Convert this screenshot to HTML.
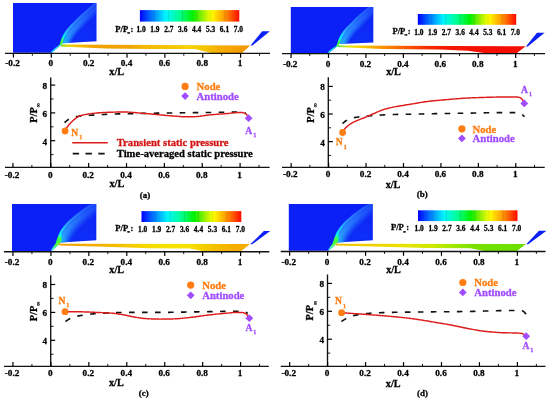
<!DOCTYPE html><html><head><meta charset="utf-8"><title>Figure</title><style>html,body{margin:0;padding:0;background:#fff;width:550px;height:402px;overflow:hidden}svg{display:block}text{stroke-width:0.28px}</style></head><body>
<svg width="550" height="402" viewBox="0 0 550 402" font-family='"Liberation Serif", "Times New Roman", serif'>
<rect width="550" height="402" fill="#fff"/>
<defs>
<linearGradient id="cb" x1="0" x2="1" y1="0" y2="0"><stop offset="0" stop-color="#0000ff"/><stop offset="0.13" stop-color="#0080ff"/><stop offset="0.26" stop-color="#00f5ff"/><stop offset="0.40" stop-color="#00ff90"/><stop offset="0.53" stop-color="#00f000"/><stop offset="0.64" stop-color="#a0f000"/><stop offset="0.72" stop-color="#ffff00"/><stop offset="0.86" stop-color="#ff9000"/><stop offset="1" stop-color="#ff0a00"/></linearGradient>
<filter id="bl05" x="-20%" y="-20%" width="140%" height="140%"><feGaussianBlur stdDeviation="0.45"/></filter>
<filter id="bl1" x="-20%" y="-20%" width="140%" height="140%"><feGaussianBlur stdDeviation="0.7"/></filter>
<filter id="bl2" x="-20%" y="-20%" width="140%" height="140%"><feGaussianBlur stdDeviation="2"/></filter>
</defs>
<clipPath id="clipa"><polygon points="13,3 96.5,3 96.5,41.2 62.1,43.199999999999996 60.9,44.8 51.8,52.7 13,52.7"/></clipPath>
<polygon points="13,3 96.5,3 96.5,41.2 62.1,43.199999999999996 60.9,44.8 51.8,52.7 13,52.7" fill="#0b20f6"/>
<g clip-path="url(#clipa)">
<defs><linearGradient id="gash" gradientUnits="userSpaceOnUse" x1="0" y1="52.7" x2="0" y2="1.5"><stop offset="0.002" stop-color="#20d8ff" stop-opacity="1"/><stop offset="0.121" stop-color="#20f0e0" stop-opacity="1"/><stop offset="0.160" stop-color="#40ff40" stop-opacity="1"/><stop offset="0.238" stop-color="#40ff50" stop-opacity="1"/><stop offset="0.316" stop-color="#00f0ff" stop-opacity="1"/><stop offset="0.424" stop-color="#30b8ff" stop-opacity="0.95"/><stop offset="0.561" stop-color="#3098ff" stop-opacity="0.85"/><stop offset="0.941" stop-color="#3078ff" stop-opacity="0.5"/></linearGradient><linearGradient id="gafan" gradientUnits="userSpaceOnUse" x1="0" y1="44.8" x2="0" y2="1.5"><stop offset="0" stop-color="#20d0ff" stop-opacity="1"/><stop offset="0.3" stop-color="#30a8ff" stop-opacity="0.9"/><stop offset="0.65" stop-color="#3088ff" stop-opacity="0.65"/><stop offset="1" stop-color="#3070ff" stop-opacity="0.3"/></linearGradient></defs>
<path d="M51.60,52.70 C52.38,52.02 54.75,49.95 56.30,48.60 C57.85,47.25 59.88,46.08 60.90,44.60 C61.92,43.12 61.92,41.08 62.40,39.70 C62.88,38.32 63.23,37.45 63.80,36.30 C64.37,35.15 64.78,34.28 65.80,32.80 C66.82,31.32 68.30,29.22 69.90,27.40 C71.50,25.58 73.58,23.73 75.40,21.90 C77.22,20.07 78.75,18.33 80.80,16.40 C82.85,14.47 85.65,12.12 87.70,10.30 C89.75,8.48 91.55,6.97 93.10,5.50 C94.65,4.03 96.35,2.17 97.00,1.50 L96.5,3 L96.5,41.2 L62.4,43.3 L51.8,52.7 Z" fill="url(#gafan)" opacity="0.1" filter="url(#bl2)"/>
<path d="M51.60,52.70 L52.86,51.60 L54.12,50.50 L55.38,49.40 L56.30,48.60 L56.64,48.32 L57.91,47.44 L59.17,46.55 L60.43,45.26 L60.90,44.60 L61.69,42.24 L62.40,39.70 L62.95,38.24 L63.80,36.30 L64.21,35.49 L65.47,33.31 L65.80,32.80 L66.73,31.43 L67.99,29.72 L69.26,28.15 L69.90,27.40 L70.52,26.71 L71.78,25.41 L73.04,24.18 L74.30,22.98 L75.40,21.90 L75.56,21.74 L76.82,20.44 L78.08,19.13 L79.34,17.83 L80.61,16.59 L80.80,16.40 L81.87,15.41 L83.13,14.28 L84.39,13.18 L85.65,12.09 L86.91,10.99 L87.70,10.30 L88.17,9.88 L89.43,8.79 L90.69,7.69 L91.96,6.57 L93.10,5.50 L93.22,5.39 L94.48,4.15 L95.74,2.85 L97.00,1.50" transform="translate(1.30,0.90)" fill="none" stroke="url(#gafan)" stroke-width="2.8" opacity="0.6" filter="url(#bl1)"/>
<path d="M51.60,52.70 L52.86,51.60 L54.12,50.50 L55.38,49.40 L56.30,48.60 L56.64,48.32 L57.91,47.44 L59.17,46.55 L60.43,45.26 L60.90,44.60 L61.69,42.24 L62.40,39.70 L62.95,38.24 L63.80,36.30 L64.21,35.49 L65.47,33.31 L65.80,32.80 L66.73,31.43 L67.99,29.72 L69.26,28.15 L69.90,27.40 L70.52,26.71 L71.78,25.41 L73.04,24.18 L74.30,22.98 L75.40,21.90 L75.56,21.74 L76.82,20.44 L78.08,19.13 L79.34,17.83 L80.61,16.59 L80.80,16.40 L81.87,15.41 L83.13,14.28 L84.39,13.18 L85.65,12.09 L86.91,10.99 L87.70,10.30 L88.17,9.88 L89.43,8.79 L90.69,7.69 L91.96,6.57 L93.10,5.50 L93.22,5.39 L94.48,4.15 L95.74,2.85 L97.00,1.50" transform="translate(2.60,1.80)" fill="none" stroke="url(#gafan)" stroke-width="2.8" opacity="0.75" filter="url(#bl1)"/>
<path d="M51.60,52.70 L52.86,51.60 L54.12,50.50 L55.38,49.40 L56.30,48.60 L56.64,48.32 L57.91,47.44 L59.17,46.55 L60.43,45.26 L60.90,44.60 L61.69,42.24 L62.40,39.70 L62.95,38.24 L63.80,36.30 L64.21,35.49 L65.47,33.31 L65.80,32.80 L66.73,31.43 L67.99,29.72 L69.26,28.15 L69.90,27.40 L70.52,26.71 L71.78,25.41 L73.04,24.18 L74.30,22.98 L75.40,21.90 L75.56,21.74 L76.82,20.44 L78.08,19.13 L79.34,17.83 L80.61,16.59 L80.80,16.40 L81.87,15.41 L83.13,14.28 L84.39,13.18 L85.65,12.09 L86.91,10.99 L87.70,10.30 L88.17,9.88 L89.43,8.79 L90.69,7.69 L91.96,6.57 L93.10,5.50 L93.22,5.39 L94.48,4.15 L95.74,2.85 L97.00,1.50" transform="translate(3.90,2.70)" fill="none" stroke="url(#gafan)" stroke-width="2.8" opacity="0.65" filter="url(#bl1)"/>
<path d="M51.60,52.70 L52.86,51.60 L54.12,50.50 L55.38,49.40 L56.30,48.60 L56.64,48.32 L57.91,47.44 L59.17,46.55 L60.43,45.26 L60.90,44.60 L61.69,42.24 L62.40,39.70 L62.95,38.24 L63.80,36.30 L64.21,35.49 L65.47,33.31 L65.80,32.80 L66.73,31.43 L67.99,29.72 L69.26,28.15 L69.90,27.40 L70.52,26.71 L71.78,25.41 L73.04,24.18 L74.30,22.98 L75.40,21.90 L75.56,21.74 L76.82,20.44 L78.08,19.13 L79.34,17.83 L80.61,16.59 L80.80,16.40 L81.87,15.41 L83.13,14.28 L84.39,13.18 L85.65,12.09 L86.91,10.99 L87.70,10.30 L88.17,9.88 L89.43,8.79 L90.69,7.69 L91.96,6.57 L93.10,5.50 L93.22,5.39 L94.48,4.15 L95.74,2.85 L97.00,1.50" transform="translate(5.20,3.60)" fill="none" stroke="url(#gafan)" stroke-width="2.8" opacity="0.45" filter="url(#bl1)"/>
<path d="M51.60,52.70 L52.86,51.60 L54.12,50.50 L55.38,49.40 L56.30,48.60 L56.64,48.32 L57.91,47.44 L59.17,46.55 L60.43,45.26 L60.90,44.60 L61.69,42.24 L62.40,39.70 L62.95,38.24 L63.80,36.30 L64.21,35.49 L65.47,33.31 L65.80,32.80 L66.73,31.43 L67.99,29.72 L69.26,28.15 L69.90,27.40 L70.52,26.71 L71.78,25.41 L73.04,24.18 L74.30,22.98 L75.40,21.90 L75.56,21.74 L76.82,20.44 L78.08,19.13 L79.34,17.83 L80.61,16.59 L80.80,16.40 L81.87,15.41 L83.13,14.28 L84.39,13.18 L85.65,12.09 L86.91,10.99 L87.70,10.30 L88.17,9.88 L89.43,8.79 L90.69,7.69 L91.96,6.57 L93.10,5.50 L93.22,5.39 L94.48,4.15 L95.74,2.85 L97.00,1.50" transform="translate(6.50,4.50)" fill="none" stroke="url(#gafan)" stroke-width="2.8" opacity="0.25" filter="url(#bl1)"/>
<path d="M51.60,52.70 L52.86,51.60 L54.12,50.50 L55.38,49.40 L56.30,48.60 L56.64,48.32 L57.91,47.44 L59.17,46.55 L60.43,45.26 L60.90,44.60 L61.69,42.24 L62.40,39.70 L62.95,38.24 L63.80,36.30 L64.21,35.49 L65.47,33.31 L65.80,32.80 L66.73,31.43 L67.99,29.72 L69.26,28.15 L69.90,27.40 L70.52,26.71 L71.78,25.41 L73.04,24.18 L74.30,22.98 L75.40,21.90 L75.56,21.74 L76.82,20.44 L78.08,19.13 L79.34,17.83 L80.61,16.59 L80.80,16.40 L81.87,15.41 L83.13,14.28 L84.39,13.18 L85.65,12.09 L86.91,10.99 L87.70,10.30 L88.17,9.88 L89.43,8.79 L90.69,7.69 L91.96,6.57 L93.10,5.50 L93.22,5.39 L94.48,4.15 L95.74,2.85 L97.00,1.50" fill="none" stroke="url(#gash)" stroke-width="2.3" filter="url(#bl05)"/>
</g>
<defs><linearGradient id="astrip" gradientUnits="userSpaceOnUse" x1="60.9" x2="250.2" y1="0" y2="0"><stop offset="0" stop-color="#50e040"/><stop offset="0.014" stop-color="#a0e000"/><stop offset="0.04" stop-color="#e0d800"/><stop offset="0.077" stop-color="#f2c000"/><stop offset="0.156" stop-color="#f2a800"/><stop offset="0.26" stop-color="#f0a000"/><stop offset="0.367" stop-color="#f2a400"/><stop offset="0.446" stop-color="#f5b800"/><stop offset="0.577" stop-color="#f5c400"/><stop offset="0.683" stop-color="#f8d000"/><stop offset="0.762" stop-color="#f5c400"/><stop offset="0.84" stop-color="#f5ac00"/><stop offset="0.935" stop-color="#f5a000"/><stop offset="1" stop-color="#f09000"/></linearGradient></defs>
<polygon points="60.9,44.599999999999994 250.2,45.4 242,52.9 211,52.9 195,49.0 150,48.9 105,48.5 60.9,46.6 60.6,45.4" fill="url(#astrip)"/>
<polygon points="250.5,45.6 262.2,31.2 269.8,31.2 252.39999999999998,45.6" fill="#0b20f6"/>
<line x1="5" y1="53.4" x2="270" y2="53.4" stroke="#111" stroke-width="1.35"/>
<line x1="13.44" y1="53.4" x2="13.44" y2="57.699999999999996" stroke="#000" stroke-width="1.2"/>
<text x="12.54" y="66.30" font-size="9.2" fill="#000" text-anchor="middle" font-weight="bold" stroke="#000">-0.2</text>
<line x1="32.37" y1="53.4" x2="32.37" y2="55.8" stroke="#000" stroke-width="0.9"/>
<line x1="51.30" y1="53.4" x2="51.30" y2="57.699999999999996" stroke="#000" stroke-width="1.2"/>
<text x="50.80" y="66.30" font-size="9.2" fill="#000" text-anchor="middle" font-weight="bold" stroke="#000">0</text>
<line x1="70.23" y1="53.4" x2="70.23" y2="55.8" stroke="#000" stroke-width="0.9"/>
<line x1="89.16" y1="53.4" x2="89.16" y2="57.699999999999996" stroke="#000" stroke-width="1.2"/>
<text x="88.66" y="66.30" font-size="9.2" fill="#000" text-anchor="middle" font-weight="bold" stroke="#000">0.2</text>
<line x1="108.09" y1="53.4" x2="108.09" y2="55.8" stroke="#000" stroke-width="0.9"/>
<line x1="127.02" y1="53.4" x2="127.02" y2="57.699999999999996" stroke="#000" stroke-width="1.2"/>
<text x="126.52" y="66.30" font-size="9.2" fill="#000" text-anchor="middle" font-weight="bold" stroke="#000">0.4</text>
<line x1="145.95" y1="53.4" x2="145.95" y2="55.8" stroke="#000" stroke-width="0.9"/>
<line x1="164.88" y1="53.4" x2="164.88" y2="57.699999999999996" stroke="#000" stroke-width="1.2"/>
<text x="164.38" y="66.30" font-size="9.2" fill="#000" text-anchor="middle" font-weight="bold" stroke="#000">0.6</text>
<line x1="183.81" y1="53.4" x2="183.81" y2="55.8" stroke="#000" stroke-width="0.9"/>
<line x1="202.74" y1="53.4" x2="202.74" y2="57.699999999999996" stroke="#000" stroke-width="1.2"/>
<text x="202.24" y="66.30" font-size="9.2" fill="#000" text-anchor="middle" font-weight="bold" stroke="#000">0.8</text>
<line x1="221.67" y1="53.4" x2="221.67" y2="55.8" stroke="#000" stroke-width="0.9"/>
<line x1="240.60" y1="53.4" x2="240.60" y2="57.699999999999996" stroke="#000" stroke-width="1.2"/>
<text x="240.10" y="66.30" font-size="9.2" fill="#000" text-anchor="middle" font-weight="bold" stroke="#000">1</text>
<line x1="259.53" y1="53.4" x2="259.53" y2="55.8" stroke="#000" stroke-width="0.9"/>
<rect x="139.9" y="10.1" width="99.4" height="11.500000000000002" fill="url(#cb)"/>
<line x1="154.10" y1="10.1" x2="154.10" y2="21.6" stroke="#000" stroke-opacity="0.18" stroke-width="0.6"/>
<line x1="168.30" y1="10.1" x2="168.30" y2="21.6" stroke="#000" stroke-opacity="0.18" stroke-width="0.6"/>
<line x1="182.50" y1="10.1" x2="182.50" y2="21.6" stroke="#000" stroke-opacity="0.18" stroke-width="0.6"/>
<line x1="196.70" y1="10.1" x2="196.70" y2="21.6" stroke="#000" stroke-opacity="0.18" stroke-width="0.6"/>
<line x1="210.90" y1="10.1" x2="210.90" y2="21.6" stroke="#000" stroke-opacity="0.18" stroke-width="0.6"/>
<line x1="225.10" y1="10.1" x2="225.10" y2="21.6" stroke="#000" stroke-opacity="0.18" stroke-width="0.6"/>
<text transform="translate(141.00,32.00)" x="0" y="0" font-size="7.4" font-weight="bold" text-anchor="middle" fill="#000" stroke="#000">1.0</text>
<text transform="translate(154.91,32.00)" x="0" y="0" font-size="7.4" font-weight="bold" text-anchor="middle" fill="#000" stroke="#000">1.9</text>
<text transform="translate(168.83,32.00)" x="0" y="0" font-size="7.4" font-weight="bold" text-anchor="middle" fill="#000" stroke="#000">2.7</text>
<text transform="translate(182.74,32.00)" x="0" y="0" font-size="7.4" font-weight="bold" text-anchor="middle" fill="#000" stroke="#000">3.6</text>
<text transform="translate(196.66,32.00)" x="0" y="0" font-size="7.4" font-weight="bold" text-anchor="middle" fill="#000" stroke="#000">4.4</text>
<text transform="translate(210.57,32.00)" x="0" y="0" font-size="7.4" font-weight="bold" text-anchor="middle" fill="#000" stroke="#000">5.3</text>
<text transform="translate(224.49,32.00)" x="0" y="0" font-size="7.4" font-weight="bold" text-anchor="middle" fill="#000" stroke="#000">6.1</text>
<text transform="translate(238.40,32.00)" x="0" y="0" font-size="7.4" font-weight="bold" text-anchor="middle" fill="#000" stroke="#000">7.0</text>
<text x="115.3" y="31.6" font-size="8.6" font-weight="bold" stroke="#000">P/P</text>
<text x="127.3" y="33.9" font-size="4.0" font-weight="bold" stroke="#000">∞</text>
<text x="130.6" y="31.6" font-size="8.6" font-weight="bold" stroke="#000">:</text>
<text x="109.30" y="74.50" font-size="10.2" fill="#000" text-anchor="start" font-weight="bold" stroke="#000">x/L</text>
<line x1="50.7" y1="77.6" x2="50.7" y2="167.4" stroke="#111" stroke-width="1.35"/>
<line x1="50.7" y1="154.60" x2="53.5" y2="154.60" stroke="#000" stroke-width="0.9"/>
<line x1="50.7" y1="140.70" x2="55.2" y2="140.70" stroke="#000" stroke-width="1.2"/>
<text x="47.20" y="144.60" font-size="9.2" fill="#000" text-anchor="end" font-weight="bold" stroke="#000">4</text>
<line x1="50.7" y1="126.80" x2="53.5" y2="126.80" stroke="#000" stroke-width="0.9"/>
<line x1="50.7" y1="112.90" x2="55.2" y2="112.90" stroke="#000" stroke-width="1.2"/>
<text x="47.20" y="116.80" font-size="9.2" fill="#000" text-anchor="end" font-weight="bold" stroke="#000">6</text>
<line x1="50.7" y1="99.00" x2="53.5" y2="99.00" stroke="#000" stroke-width="0.9"/>
<line x1="50.7" y1="85.10" x2="55.2" y2="85.10" stroke="#000" stroke-width="1.2"/>
<text x="47.20" y="89.00" font-size="9.2" fill="#000" text-anchor="end" font-weight="bold" stroke="#000">8</text>
<line x1="5" y1="167.4" x2="269.6" y2="167.4" stroke="#111" stroke-width="1.35"/>
<line x1="12.94" y1="167.4" x2="12.94" y2="163.1" stroke="#000" stroke-width="1.2"/>
<text x="12.04" y="177.70" font-size="9.2" fill="#000" text-anchor="middle" font-weight="bold" stroke="#000">-0.2</text>
<line x1="31.87" y1="167.4" x2="31.87" y2="164.9" stroke="#000" stroke-width="0.9"/>
<line x1="50.80" y1="167.4" x2="50.80" y2="163.1" stroke="#000" stroke-width="1.2"/>
<text x="50.30" y="177.70" font-size="9.2" fill="#000" text-anchor="middle" font-weight="bold" stroke="#000">0</text>
<line x1="69.73" y1="167.4" x2="69.73" y2="164.9" stroke="#000" stroke-width="0.9"/>
<line x1="88.66" y1="167.4" x2="88.66" y2="163.1" stroke="#000" stroke-width="1.2"/>
<text x="88.16" y="177.70" font-size="9.2" fill="#000" text-anchor="middle" font-weight="bold" stroke="#000">0.2</text>
<line x1="107.59" y1="167.4" x2="107.59" y2="164.9" stroke="#000" stroke-width="0.9"/>
<line x1="126.52" y1="167.4" x2="126.52" y2="163.1" stroke="#000" stroke-width="1.2"/>
<text x="126.02" y="177.70" font-size="9.2" fill="#000" text-anchor="middle" font-weight="bold" stroke="#000">0.4</text>
<line x1="145.45" y1="167.4" x2="145.45" y2="164.9" stroke="#000" stroke-width="0.9"/>
<line x1="164.38" y1="167.4" x2="164.38" y2="163.1" stroke="#000" stroke-width="1.2"/>
<text x="163.88" y="177.70" font-size="9.2" fill="#000" text-anchor="middle" font-weight="bold" stroke="#000">0.6</text>
<line x1="183.31" y1="167.4" x2="183.31" y2="164.9" stroke="#000" stroke-width="0.9"/>
<line x1="202.24" y1="167.4" x2="202.24" y2="163.1" stroke="#000" stroke-width="1.2"/>
<text x="201.74" y="177.70" font-size="9.2" fill="#000" text-anchor="middle" font-weight="bold" stroke="#000">0.8</text>
<line x1="221.17" y1="167.4" x2="221.17" y2="164.9" stroke="#000" stroke-width="0.9"/>
<line x1="240.10" y1="167.4" x2="240.10" y2="163.1" stroke="#000" stroke-width="1.2"/>
<text x="239.60" y="177.70" font-size="9.2" fill="#000" text-anchor="middle" font-weight="bold" stroke="#000">1</text>
<line x1="259.03" y1="167.4" x2="259.03" y2="164.9" stroke="#000" stroke-width="0.9"/>
<text transform="translate(36.6,113) rotate(-90)" font-size="10.4" font-weight="bold" text-anchor="middle" stroke="#000">P/P<tspan font-size="5.6" dy="3.4">∞</tspan></text>
<text x="109.50" y="187.40" font-size="10.2" fill="#000" text-anchor="start" font-weight="bold" stroke="#000">x/L</text>
<text x="139.70" y="197.80" font-size="9" fill="#000" text-anchor="start" font-weight="bold" stroke="#000">(a)</text>
<path d="M64.50,122.70 L65.71,121.62 L66.92,120.61 L68.13,119.70 L69.34,118.94 L70.55,118.34 L70.90,118.20 L71.76,117.90 L72.97,117.51 L74.18,117.18 L75.39,116.89 L76.60,116.65 L77.81,116.45 L78.20,116.40 L79.02,116.29 L80.23,116.15 L81.44,116.01 L82.65,115.89 L83.86,115.77 L85.07,115.67 L86.28,115.57 L87.49,115.47 L88.70,115.39 L89.91,115.30 L91.12,115.23 L92.33,115.15 L93.54,115.08 L94.75,115.00 L95.96,114.93 L96.40,114.90 L97.17,114.85 L98.38,114.78 L99.59,114.71 L100.80,114.63 L102.01,114.57 L103.22,114.50 L104.43,114.43 L105.64,114.37 L106.85,114.31 L108.06,114.25 L109.27,114.20 L110.48,114.14 L111.69,114.10 L112.90,114.05 L114.11,114.01 L114.50,114.00 L115.32,113.98 L116.53,113.94 L117.74,113.91 L118.95,113.88 L120.16,113.85 L121.37,113.82 L122.58,113.80 L123.79,113.77 L125.00,113.75 L126.21,113.72 L127.42,113.70 L128.63,113.68 L129.84,113.66 L131.05,113.63 L132.26,113.61 L132.70,113.60 L133.47,113.58 L134.68,113.56 L135.89,113.54 L137.10,113.51 L138.31,113.49 L139.52,113.46 L140.73,113.44 L141.94,113.42 L143.15,113.39 L144.36,113.37 L145.57,113.35 L146.78,113.32 L147.99,113.30 L149.20,113.28 L150.41,113.26 L151.62,113.24 L152.83,113.22 L154.04,113.20 L155.25,113.18 L156.46,113.16 L157.67,113.14 L158.88,113.12 L160.00,113.10 L160.09,113.10 L161.30,113.08 L162.51,113.06 L163.72,113.05 L164.93,113.03 L166.14,113.01 L167.35,113.00 L168.56,112.98 L169.77,112.97 L170.98,112.95 L172.19,112.94 L173.40,112.92 L174.61,112.91 L175.82,112.89 L177.03,112.88 L178.24,112.86 L179.45,112.85 L180.66,112.83 L181.87,112.82 L183.08,112.80 L184.29,112.79 L185.50,112.77 L186.71,112.76 L187.92,112.74 L189.13,112.73 L190.34,112.71 L191.40,112.70 L191.55,112.70 L192.76,112.68 L193.97,112.67 L195.18,112.65 L196.39,112.63 L197.60,112.62 L198.81,112.60 L200.02,112.59 L201.23,112.57 L202.44,112.55 L203.65,112.54 L204.86,112.52 L206.07,112.50 L207.28,112.49 L208.49,112.47 L209.70,112.46 L210.91,112.44 L212.12,112.42 L213.33,112.41 L214.54,112.39 L215.75,112.37 L216.96,112.35 L218.17,112.34 L219.38,112.32 L220.59,112.30 L221.80,112.29 L223.01,112.27 L224.22,112.25 L225.43,112.23 L226.64,112.22 L227.70,112.20 L227.85,112.20 L229.06,112.18 L230.27,112.15 L231.48,112.13 L232.69,112.11 L233.90,112.08 L235.11,112.06 L236.32,112.04 L237.53,112.02 L238.74,112.01 L239.95,112.00 L240.50,112.00 L241.16,112.02 L242.37,112.12 L243.58,112.32 L244.00,112.40 L244.79,112.77 L246.00,113.80" fill="none" stroke="#111" stroke-width="1.6" stroke-dasharray="5.6 7.4"/>
<path d="M65.30,130.30 L66.51,128.21 L67.73,126.37 L68.00,126.00 L68.94,124.83 L70.16,123.48 L71.00,122.60 L71.37,122.22 L72.58,121.01 L73.80,119.89 L74.50,119.30 L75.01,118.89 L76.23,117.94 L77.44,117.11 L78.20,116.70 L78.65,116.49 L79.87,115.98 L81.08,115.55 L82.29,115.18 L83.00,115.00 L83.51,114.88 L84.72,114.63 L85.94,114.42 L87.15,114.22 L87.30,114.20 L88.36,114.04 L89.58,113.86 L90.79,113.70 L92.01,113.54 L93.22,113.39 L94.43,113.26 L95.65,113.13 L96.00,113.10 L96.86,113.02 L98.08,112.91 L99.29,112.80 L100.50,112.70 L101.72,112.61 L102.93,112.53 L104.15,112.46 L105.36,112.41 L105.50,112.40 L106.57,112.36 L107.79,112.32 L109.00,112.28 L110.21,112.24 L111.43,112.20 L112.64,112.17 L113.86,112.14 L115.07,112.11 L116.28,112.08 L117.50,112.06 L118.71,112.04 L119.93,112.02 L121.14,112.01 L122.35,112.00 L123.57,112.00 L123.60,112.00 L124.78,112.01 L126.00,112.04 L127.21,112.08 L128.42,112.14 L129.64,112.21 L130.85,112.29 L132.06,112.37 L133.28,112.47 L134.49,112.57 L135.71,112.68 L136.92,112.79 L138.13,112.89 L139.35,113.00 L140.56,113.10 L141.78,113.20 L141.80,113.20 L142.99,113.29 L144.20,113.40 L145.42,113.50 L146.63,113.61 L147.85,113.73 L149.06,113.84 L150.27,113.96 L151.49,114.07 L152.70,114.19 L153.92,114.30 L155.00,114.40 L155.13,114.41 L156.34,114.52 L157.56,114.63 L158.77,114.74 L159.98,114.86 L161.20,114.97 L162.41,115.08 L163.63,115.20 L164.84,115.31 L166.05,115.42 L167.27,115.52 L168.48,115.63 L169.70,115.73 L170.91,115.83 L172.12,115.92 L173.20,116.00 L173.34,116.01 L174.55,116.10 L175.77,116.20 L176.98,116.30 L178.19,116.40 L179.41,116.50 L180.62,116.59 L181.84,116.67 L183.05,116.73 L184.26,116.77 L185.48,116.80 L186.00,116.80 L186.69,116.80 L187.90,116.79 L189.12,116.78 L190.33,116.76 L191.55,116.73 L192.76,116.70 L193.97,116.66 L195.19,116.63 L196.00,116.60 L196.40,116.58 L197.62,116.51 L198.83,116.39 L200.04,116.25 L201.26,116.08 L202.47,115.90 L203.69,115.71 L204.90,115.52 L206.11,115.33 L207.33,115.16 L208.54,115.00 L209.50,114.90 L209.75,114.88 L210.97,114.76 L212.18,114.66 L213.40,114.56 L214.61,114.46 L215.82,114.37 L217.04,114.28 L218.25,114.19 L219.47,114.11 L220.68,114.02 L221.89,113.94 L223.11,113.85 L224.32,113.76 L225.54,113.67 L226.75,113.58 L227.70,113.50 L227.96,113.48 L229.18,113.37 L230.39,113.25 L231.61,113.12 L232.82,112.99 L234.03,112.87 L235.25,112.77 L236.46,112.68 L237.67,112.61 L238.00,112.60 L238.89,112.57 L240.10,112.53 L241.32,112.50 L242.00,112.50 L242.53,112.53 L243.74,112.83 L244.96,113.33 L245.50,113.60 L246.17,114.09 L247.39,115.56 L248.60,117.50" fill="none" stroke="#dd1c1c" stroke-width="1.45"/>
<circle cx="65.1" cy="131.0" r="3.4" fill="#ff7d12"/>
<polygon points="248.6,114.3 252.5,118.2 248.6,122.10000000000001 244.7,118.2" fill="#a04cff"/>
<text x="71.2" y="136.2" font-size="9.6" font-weight="bold" fill="#ff7d12" stroke="#ff7d12">N<tspan font-size="6" dx="1.0" dy="3.2">1</tspan></text>
<text x="245.3" y="133.9" font-size="9.6" font-weight="bold" fill="#a04cff" stroke="#a04cff">A<tspan font-size="6" dx="1.0" dy="3.2">1</tspan></text>
<circle cx="185.1" cy="86.4" r="3.6" fill="#ff7d12"/>
<text x="196.60" y="90.10" font-size="10.7" fill="#ff7d12" text-anchor="start" font-weight="bold" stroke="#ff7d12">Node</text>
<polygon points="185.1,92.2 189.0,96.10000000000001 185.1,100.00000000000001 181.2,96.10000000000001" fill="#a04cff"/>
<text x="196.60" y="99.60" font-size="10.7" fill="#a04cff" text-anchor="start" font-weight="bold" stroke="#a04cff">Antinode</text>
<line x1="72.2" y1="142.8" x2="107.80000000000001" y2="142.8" stroke="#dd1c1c" stroke-width="1.5"/>
<text x="116.80" y="145.80" font-size="10.65" fill="#d41414" text-anchor="start" font-weight="bold" stroke="#d41414">Transient static pressure</text>
<line x1="72.7" y1="153.70000000000002" x2="105.2" y2="153.70000000000002" stroke="#111" stroke-width="1.7" stroke-dasharray="6.4 6.4"/>
<text x="116.80" y="156.70" font-size="10.6" fill="#000" text-anchor="start" font-weight="bold" stroke="#000">Time-averaged static pressure</text>
<clipPath id="clipb"><polygon points="290.8,6.9 373.3,6.9 373.3,42.6 339.09999999999997,44.1 337.9,45.7 328.8,52.9 290.8,52.9"/></clipPath>
<polygon points="290.8,6.9 373.3,6.9 373.3,42.6 339.09999999999997,44.1 337.9,45.7 328.8,52.9 290.8,52.9" fill="#0b20f6"/>
<g clip-path="url(#clipb)">
<defs><linearGradient id="gbsh" gradientUnits="userSpaceOnUse" x1="0" y1="52.9" x2="0" y2="2.7"><stop offset="0.000" stop-color="#20d8ff" stop-opacity="1"/><stop offset="0.108" stop-color="#20f0e0" stop-opacity="1"/><stop offset="0.147" stop-color="#40ff40" stop-opacity="1"/><stop offset="0.217" stop-color="#40ff50" stop-opacity="1"/><stop offset="0.297" stop-color="#00f0ff" stop-opacity="1"/><stop offset="0.416" stop-color="#30b8ff" stop-opacity="0.95"/><stop offset="0.556" stop-color="#3098ff" stop-opacity="0.85"/><stop offset="0.898" stop-color="#3078ff" stop-opacity="0.5"/></linearGradient><linearGradient id="gbfan" gradientUnits="userSpaceOnUse" x1="0" y1="45.7" x2="0" y2="2.7"><stop offset="0" stop-color="#20d0ff" stop-opacity="1"/><stop offset="0.3" stop-color="#30a8ff" stop-opacity="0.9"/><stop offset="0.65" stop-color="#3088ff" stop-opacity="0.65"/><stop offset="1" stop-color="#3070ff" stop-opacity="0.3"/></linearGradient></defs>
<path d="M328.60,52.90 C329.37,52.30 331.67,50.50 333.20,49.30 C334.73,48.10 336.78,47.10 337.80,45.70 C338.82,44.30 338.82,42.27 339.30,40.90 C339.78,39.53 340.13,38.65 340.70,37.50 C341.27,36.35 341.68,35.48 342.70,34.00 C343.72,32.52 345.20,30.42 346.80,28.60 C348.40,26.78 350.48,24.93 352.30,23.10 C354.12,21.27 355.65,19.53 357.70,17.60 C359.75,15.67 362.55,13.32 364.60,11.50 C366.65,9.68 368.43,8.17 370.00,6.70 C371.57,5.23 373.33,3.37 374.00,2.70 L373.3,6.9 L373.3,42.6 L339.4,44.2 L328.8,52.9 Z" fill="url(#gbfan)" opacity="0.1" filter="url(#bl2)"/>
<path d="M328.60,52.90 L329.86,51.91 L331.12,50.93 L332.38,49.94 L333.20,49.30 L333.64,48.98 L334.91,48.21 L336.17,47.40 L337.43,46.19 L337.80,45.70 L338.69,43.03 L339.30,40.90 L339.95,39.20 L340.70,37.50 L341.21,36.50 L342.47,34.35 L342.70,34.00 L343.73,32.48 L344.99,30.79 L346.26,29.23 L346.80,28.60 L347.52,27.81 L348.78,26.51 L350.04,25.29 L351.30,24.08 L352.30,23.10 L352.56,22.84 L353.82,21.54 L355.08,20.22 L356.34,18.93 L357.61,17.69 L357.70,17.60 L358.87,16.52 L360.13,15.39 L361.39,14.29 L362.65,13.20 L363.91,12.11 L364.60,11.50 L365.17,11.00 L366.43,9.89 L367.69,8.79 L368.96,7.67 L370.00,6.70 L370.22,6.49 L371.48,5.27 L372.74,4.00 L374.00,2.70" transform="translate(1.30,0.90)" fill="none" stroke="url(#gbfan)" stroke-width="2.8" opacity="0.6" filter="url(#bl1)"/>
<path d="M328.60,52.90 L329.86,51.91 L331.12,50.93 L332.38,49.94 L333.20,49.30 L333.64,48.98 L334.91,48.21 L336.17,47.40 L337.43,46.19 L337.80,45.70 L338.69,43.03 L339.30,40.90 L339.95,39.20 L340.70,37.50 L341.21,36.50 L342.47,34.35 L342.70,34.00 L343.73,32.48 L344.99,30.79 L346.26,29.23 L346.80,28.60 L347.52,27.81 L348.78,26.51 L350.04,25.29 L351.30,24.08 L352.30,23.10 L352.56,22.84 L353.82,21.54 L355.08,20.22 L356.34,18.93 L357.61,17.69 L357.70,17.60 L358.87,16.52 L360.13,15.39 L361.39,14.29 L362.65,13.20 L363.91,12.11 L364.60,11.50 L365.17,11.00 L366.43,9.89 L367.69,8.79 L368.96,7.67 L370.00,6.70 L370.22,6.49 L371.48,5.27 L372.74,4.00 L374.00,2.70" transform="translate(2.60,1.80)" fill="none" stroke="url(#gbfan)" stroke-width="2.8" opacity="0.75" filter="url(#bl1)"/>
<path d="M328.60,52.90 L329.86,51.91 L331.12,50.93 L332.38,49.94 L333.20,49.30 L333.64,48.98 L334.91,48.21 L336.17,47.40 L337.43,46.19 L337.80,45.70 L338.69,43.03 L339.30,40.90 L339.95,39.20 L340.70,37.50 L341.21,36.50 L342.47,34.35 L342.70,34.00 L343.73,32.48 L344.99,30.79 L346.26,29.23 L346.80,28.60 L347.52,27.81 L348.78,26.51 L350.04,25.29 L351.30,24.08 L352.30,23.10 L352.56,22.84 L353.82,21.54 L355.08,20.22 L356.34,18.93 L357.61,17.69 L357.70,17.60 L358.87,16.52 L360.13,15.39 L361.39,14.29 L362.65,13.20 L363.91,12.11 L364.60,11.50 L365.17,11.00 L366.43,9.89 L367.69,8.79 L368.96,7.67 L370.00,6.70 L370.22,6.49 L371.48,5.27 L372.74,4.00 L374.00,2.70" transform="translate(3.90,2.70)" fill="none" stroke="url(#gbfan)" stroke-width="2.8" opacity="0.65" filter="url(#bl1)"/>
<path d="M328.60,52.90 L329.86,51.91 L331.12,50.93 L332.38,49.94 L333.20,49.30 L333.64,48.98 L334.91,48.21 L336.17,47.40 L337.43,46.19 L337.80,45.70 L338.69,43.03 L339.30,40.90 L339.95,39.20 L340.70,37.50 L341.21,36.50 L342.47,34.35 L342.70,34.00 L343.73,32.48 L344.99,30.79 L346.26,29.23 L346.80,28.60 L347.52,27.81 L348.78,26.51 L350.04,25.29 L351.30,24.08 L352.30,23.10 L352.56,22.84 L353.82,21.54 L355.08,20.22 L356.34,18.93 L357.61,17.69 L357.70,17.60 L358.87,16.52 L360.13,15.39 L361.39,14.29 L362.65,13.20 L363.91,12.11 L364.60,11.50 L365.17,11.00 L366.43,9.89 L367.69,8.79 L368.96,7.67 L370.00,6.70 L370.22,6.49 L371.48,5.27 L372.74,4.00 L374.00,2.70" transform="translate(5.20,3.60)" fill="none" stroke="url(#gbfan)" stroke-width="2.8" opacity="0.45" filter="url(#bl1)"/>
<path d="M328.60,52.90 L329.86,51.91 L331.12,50.93 L332.38,49.94 L333.20,49.30 L333.64,48.98 L334.91,48.21 L336.17,47.40 L337.43,46.19 L337.80,45.70 L338.69,43.03 L339.30,40.90 L339.95,39.20 L340.70,37.50 L341.21,36.50 L342.47,34.35 L342.70,34.00 L343.73,32.48 L344.99,30.79 L346.26,29.23 L346.80,28.60 L347.52,27.81 L348.78,26.51 L350.04,25.29 L351.30,24.08 L352.30,23.10 L352.56,22.84 L353.82,21.54 L355.08,20.22 L356.34,18.93 L357.61,17.69 L357.70,17.60 L358.87,16.52 L360.13,15.39 L361.39,14.29 L362.65,13.20 L363.91,12.11 L364.60,11.50 L365.17,11.00 L366.43,9.89 L367.69,8.79 L368.96,7.67 L370.00,6.70 L370.22,6.49 L371.48,5.27 L372.74,4.00 L374.00,2.70" transform="translate(6.50,4.50)" fill="none" stroke="url(#gbfan)" stroke-width="2.8" opacity="0.25" filter="url(#bl1)"/>
<path d="M328.60,52.90 L329.86,51.91 L331.12,50.93 L332.38,49.94 L333.20,49.30 L333.64,48.98 L334.91,48.21 L336.17,47.40 L337.43,46.19 L337.80,45.70 L338.69,43.03 L339.30,40.90 L339.95,39.20 L340.70,37.50 L341.21,36.50 L342.47,34.35 L342.70,34.00 L343.73,32.48 L344.99,30.79 L346.26,29.23 L346.80,28.60 L347.52,27.81 L348.78,26.51 L350.04,25.29 L351.30,24.08 L352.30,23.10 L352.56,22.84 L353.82,21.54 L355.08,20.22 L356.34,18.93 L357.61,17.69 L357.70,17.60 L358.87,16.52 L360.13,15.39 L361.39,14.29 L362.65,13.20 L363.91,12.11 L364.60,11.50 L365.17,11.00 L366.43,9.89 L367.69,8.79 L368.96,7.67 L370.00,6.70 L370.22,6.49 L371.48,5.27 L372.74,4.00 L374.00,2.70" fill="none" stroke="url(#gbsh)" stroke-width="2.3" filter="url(#bl05)"/>
</g>
<defs><linearGradient id="bstrip" gradientUnits="userSpaceOnUse" x1="337.9" x2="525.6" y1="0" y2="0"><stop offset="0" stop-color="#40e040"/><stop offset="0.02" stop-color="#90e020"/><stop offset="0.06" stop-color="#e0e000"/><stop offset="0.1" stop-color="#f5d800"/><stop offset="0.15" stop-color="#f8c000"/><stop offset="0.2" stop-color="#f8a400"/><stop offset="0.245" stop-color="#f89000"/><stop offset="0.31" stop-color="#f87000"/><stop offset="0.39" stop-color="#f85000"/><stop offset="0.465" stop-color="#f83000"/><stop offset="0.54" stop-color="#f51c00"/><stop offset="0.7" stop-color="#f51000"/><stop offset="1" stop-color="#f50c00"/></linearGradient></defs>
<polygon points="337.9,45.5 525.6,46.3 517,53.1 484,53.1 468,50.8 440,49.6 382,49.1 337.9,47.1 337.59999999999997,46.300000000000004" fill="url(#bstrip)"/>
<polygon points="525.9,46.5 537,32.8 544.6,32.8 527.8000000000001,46.5" fill="#0b20f6"/>
<line x1="282" y1="53.6" x2="545" y2="53.6" stroke="#111" stroke-width="1.35"/>
<line x1="291.06" y1="53.6" x2="291.06" y2="57.9" stroke="#000" stroke-width="1.2"/>
<text x="290.16" y="66.80" font-size="9.2" fill="#000" text-anchor="middle" font-weight="bold" stroke="#000">-0.2</text>
<line x1="309.78" y1="53.6" x2="309.78" y2="56.0" stroke="#000" stroke-width="0.9"/>
<line x1="328.50" y1="53.6" x2="328.50" y2="57.9" stroke="#000" stroke-width="1.2"/>
<text x="328.00" y="66.80" font-size="9.2" fill="#000" text-anchor="middle" font-weight="bold" stroke="#000">0</text>
<line x1="347.22" y1="53.6" x2="347.22" y2="56.0" stroke="#000" stroke-width="0.9"/>
<line x1="365.94" y1="53.6" x2="365.94" y2="57.9" stroke="#000" stroke-width="1.2"/>
<text x="365.44" y="66.80" font-size="9.2" fill="#000" text-anchor="middle" font-weight="bold" stroke="#000">0.2</text>
<line x1="384.66" y1="53.6" x2="384.66" y2="56.0" stroke="#000" stroke-width="0.9"/>
<line x1="403.38" y1="53.6" x2="403.38" y2="57.9" stroke="#000" stroke-width="1.2"/>
<text x="402.88" y="66.80" font-size="9.2" fill="#000" text-anchor="middle" font-weight="bold" stroke="#000">0.4</text>
<line x1="422.10" y1="53.6" x2="422.10" y2="56.0" stroke="#000" stroke-width="0.9"/>
<line x1="440.82" y1="53.6" x2="440.82" y2="57.9" stroke="#000" stroke-width="1.2"/>
<text x="440.32" y="66.80" font-size="9.2" fill="#000" text-anchor="middle" font-weight="bold" stroke="#000">0.6</text>
<line x1="459.54" y1="53.6" x2="459.54" y2="56.0" stroke="#000" stroke-width="0.9"/>
<line x1="478.26" y1="53.6" x2="478.26" y2="57.9" stroke="#000" stroke-width="1.2"/>
<text x="477.76" y="66.80" font-size="9.2" fill="#000" text-anchor="middle" font-weight="bold" stroke="#000">0.8</text>
<line x1="496.98" y1="53.6" x2="496.98" y2="56.0" stroke="#000" stroke-width="0.9"/>
<line x1="515.70" y1="53.6" x2="515.70" y2="57.9" stroke="#000" stroke-width="1.2"/>
<text x="515.20" y="66.80" font-size="9.2" fill="#000" text-anchor="middle" font-weight="bold" stroke="#000">1</text>
<line x1="534.42" y1="53.6" x2="534.42" y2="56.0" stroke="#000" stroke-width="0.9"/>
<rect x="417.8" y="14" width="98.40000000000003" height="10.8" fill="url(#cb)"/>
<line x1="431.86" y1="14" x2="431.86" y2="24.8" stroke="#000" stroke-opacity="0.18" stroke-width="0.6"/>
<line x1="445.91" y1="14" x2="445.91" y2="24.8" stroke="#000" stroke-opacity="0.18" stroke-width="0.6"/>
<line x1="459.97" y1="14" x2="459.97" y2="24.8" stroke="#000" stroke-opacity="0.18" stroke-width="0.6"/>
<line x1="474.03" y1="14" x2="474.03" y2="24.8" stroke="#000" stroke-opacity="0.18" stroke-width="0.6"/>
<line x1="488.09" y1="14" x2="488.09" y2="24.8" stroke="#000" stroke-opacity="0.18" stroke-width="0.6"/>
<line x1="502.14" y1="14" x2="502.14" y2="24.8" stroke="#000" stroke-opacity="0.18" stroke-width="0.6"/>
<text transform="translate(418.90,34.50)" x="0" y="0" font-size="7.4" font-weight="bold" text-anchor="middle" fill="#000" stroke="#000">1.0</text>
<text transform="translate(432.67,34.50)" x="0" y="0" font-size="7.4" font-weight="bold" text-anchor="middle" fill="#000" stroke="#000">1.9</text>
<text transform="translate(446.44,34.50)" x="0" y="0" font-size="7.4" font-weight="bold" text-anchor="middle" fill="#000" stroke="#000">2.7</text>
<text transform="translate(460.21,34.50)" x="0" y="0" font-size="7.4" font-weight="bold" text-anchor="middle" fill="#000" stroke="#000">3.6</text>
<text transform="translate(473.99,34.50)" x="0" y="0" font-size="7.4" font-weight="bold" text-anchor="middle" fill="#000" stroke="#000">4.4</text>
<text transform="translate(487.76,34.50)" x="0" y="0" font-size="7.4" font-weight="bold" text-anchor="middle" fill="#000" stroke="#000">5.3</text>
<text transform="translate(501.53,34.50)" x="0" y="0" font-size="7.4" font-weight="bold" text-anchor="middle" fill="#000" stroke="#000">6.1</text>
<text transform="translate(515.30,34.50)" x="0" y="0" font-size="7.4" font-weight="bold" text-anchor="middle" fill="#000" stroke="#000">7.0</text>
<text x="392.4" y="33.8" font-size="8.6" font-weight="bold" stroke="#000">P/P</text>
<text x="404.4" y="36.099999999999994" font-size="4.0" font-weight="bold" stroke="#000">∞</text>
<text x="407.7" y="33.8" font-size="8.6" font-weight="bold" stroke="#000">:</text>
<text x="386.20" y="74.70" font-size="10.2" fill="#000" text-anchor="start" font-weight="bold" stroke="#000">x/L</text>
<line x1="328.3" y1="77.3" x2="328.3" y2="167.3" stroke="#111" stroke-width="1.35"/>
<line x1="328.3" y1="155.40" x2="331.1" y2="155.40" stroke="#000" stroke-width="0.9"/>
<line x1="328.3" y1="141.60" x2="332.8" y2="141.60" stroke="#000" stroke-width="1.2"/>
<text x="324.80" y="145.50" font-size="9.2" fill="#000" text-anchor="end" font-weight="bold" stroke="#000">4</text>
<line x1="328.3" y1="127.80" x2="331.1" y2="127.80" stroke="#000" stroke-width="0.9"/>
<line x1="328.3" y1="114.00" x2="332.8" y2="114.00" stroke="#000" stroke-width="1.2"/>
<text x="324.80" y="117.90" font-size="9.2" fill="#000" text-anchor="end" font-weight="bold" stroke="#000">6</text>
<line x1="328.3" y1="100.20" x2="331.1" y2="100.20" stroke="#000" stroke-width="0.9"/>
<line x1="328.3" y1="86.40" x2="332.8" y2="86.40" stroke="#000" stroke-width="1.2"/>
<text x="324.80" y="90.30" font-size="9.2" fill="#000" text-anchor="end" font-weight="bold" stroke="#000">8</text>
<line x1="282" y1="167.3" x2="544.7" y2="167.3" stroke="#111" stroke-width="1.35"/>
<line x1="291.16" y1="167.3" x2="291.16" y2="163.0" stroke="#000" stroke-width="1.2"/>
<text x="290.26" y="177.30" font-size="9.2" fill="#000" text-anchor="middle" font-weight="bold" stroke="#000">-0.2</text>
<line x1="309.88" y1="167.3" x2="309.88" y2="164.8" stroke="#000" stroke-width="0.9"/>
<line x1="328.60" y1="167.3" x2="328.60" y2="163.0" stroke="#000" stroke-width="1.2"/>
<text x="328.10" y="177.30" font-size="9.2" fill="#000" text-anchor="middle" font-weight="bold" stroke="#000">0</text>
<line x1="347.32" y1="167.3" x2="347.32" y2="164.8" stroke="#000" stroke-width="0.9"/>
<line x1="366.04" y1="167.3" x2="366.04" y2="163.0" stroke="#000" stroke-width="1.2"/>
<text x="365.54" y="177.30" font-size="9.2" fill="#000" text-anchor="middle" font-weight="bold" stroke="#000">0.2</text>
<line x1="384.76" y1="167.3" x2="384.76" y2="164.8" stroke="#000" stroke-width="0.9"/>
<line x1="403.48" y1="167.3" x2="403.48" y2="163.0" stroke="#000" stroke-width="1.2"/>
<text x="402.98" y="177.30" font-size="9.2" fill="#000" text-anchor="middle" font-weight="bold" stroke="#000">0.4</text>
<line x1="422.20" y1="167.3" x2="422.20" y2="164.8" stroke="#000" stroke-width="0.9"/>
<line x1="440.92" y1="167.3" x2="440.92" y2="163.0" stroke="#000" stroke-width="1.2"/>
<text x="440.42" y="177.30" font-size="9.2" fill="#000" text-anchor="middle" font-weight="bold" stroke="#000">0.6</text>
<line x1="459.64" y1="167.3" x2="459.64" y2="164.8" stroke="#000" stroke-width="0.9"/>
<line x1="478.36" y1="167.3" x2="478.36" y2="163.0" stroke="#000" stroke-width="1.2"/>
<text x="477.86" y="177.30" font-size="9.2" fill="#000" text-anchor="middle" font-weight="bold" stroke="#000">0.8</text>
<line x1="497.08" y1="167.3" x2="497.08" y2="164.8" stroke="#000" stroke-width="0.9"/>
<line x1="515.80" y1="167.3" x2="515.80" y2="163.0" stroke="#000" stroke-width="1.2"/>
<text x="515.30" y="177.30" font-size="9.2" fill="#000" text-anchor="middle" font-weight="bold" stroke="#000">1</text>
<line x1="534.52" y1="167.3" x2="534.52" y2="164.8" stroke="#000" stroke-width="0.9"/>
<text transform="translate(313.6,113) rotate(-90)" font-size="10.4" font-weight="bold" text-anchor="middle" stroke="#000">P/P<tspan font-size="5.6" dy="3.4">∞</tspan></text>
<text x="385.70" y="188.00" font-size="10.2" fill="#000" text-anchor="start" font-weight="bold" stroke="#000">x/L</text>
<text x="416.80" y="196.50" font-size="9" fill="#000" text-anchor="start" font-weight="bold" stroke="#000">(b)</text>
<path d="M342.50,123.60 L343.71,122.51 L344.93,121.50 L346.14,120.60 L347.35,119.83 L348.57,119.23 L348.90,119.10 L349.78,118.79 L350.99,118.41 L352.21,118.08 L353.42,117.80 L354.63,117.56 L355.85,117.35 L356.20,117.30 L357.06,117.17 L358.27,117.01 L359.49,116.85 L360.70,116.70 L361.91,116.56 L363.13,116.43 L364.34,116.31 L365.55,116.20 L366.77,116.09 L367.98,115.98 L369.19,115.89 L370.41,115.79 L371.62,115.70 L372.83,115.61 L374.05,115.53 L374.40,115.50 L375.26,115.44 L376.47,115.35 L377.69,115.27 L378.90,115.19 L380.11,115.11 L381.33,115.03 L382.54,114.95 L383.75,114.88 L384.97,114.81 L386.18,114.75 L387.39,114.69 L388.61,114.63 L389.82,114.58 L391.03,114.54 L392.25,114.51 L392.50,114.50 L393.46,114.48 L394.67,114.45 L395.89,114.43 L397.10,114.40 L398.31,114.38 L399.53,114.36 L400.74,114.35 L401.95,114.33 L403.17,114.31 L404.38,114.30 L405.59,114.28 L406.81,114.26 L408.02,114.25 L409.23,114.23 L410.45,114.20 L410.70,114.20 L411.66,114.18 L412.87,114.16 L414.09,114.13 L415.30,114.11 L416.51,114.08 L417.73,114.05 L418.94,114.02 L420.15,114.00 L421.37,113.97 L422.58,113.94 L423.79,113.91 L425.01,113.88 L426.22,113.85 L427.43,113.82 L428.65,113.79 L429.86,113.77 L431.07,113.74 L432.29,113.71 L433.50,113.69 L434.71,113.66 L435.93,113.64 L437.14,113.62 L438.00,113.60 L438.35,113.59 L439.57,113.57 L440.78,113.55 L441.99,113.54 L443.21,113.52 L444.42,113.50 L445.63,113.48 L446.85,113.46 L448.06,113.45 L449.27,113.43 L450.49,113.42 L451.70,113.40 L452.91,113.38 L454.13,113.37 L455.34,113.35 L456.55,113.34 L457.77,113.32 L458.98,113.30 L460.19,113.29 L461.41,113.27 L462.62,113.25 L463.83,113.24 L465.05,113.22 L466.26,113.20 L466.40,113.20 L467.47,113.18 L468.69,113.16 L469.90,113.14 L471.11,113.12 L472.33,113.09 L473.54,113.07 L474.75,113.04 L475.97,113.02 L477.18,112.99 L478.39,112.97 L479.61,112.94 L480.82,112.91 L482.03,112.89 L483.25,112.86 L484.46,112.83 L485.67,112.81 L486.89,112.78 L488.10,112.76 L489.31,112.74 L490.53,112.72 L491.74,112.70 L492.95,112.68 L494.17,112.66 L495.38,112.65 L496.59,112.63 L497.81,112.62 L499.02,112.61 L500.23,112.61 L501.45,112.60 L502.66,112.60 L502.70,112.60 L503.87,112.60 L505.09,112.60 L506.30,112.60 L507.51,112.60 L508.73,112.60 L509.94,112.60 L511.15,112.60 L512.37,112.60 L513.58,112.60 L514.79,112.60 L515.50,112.60 L516.01,112.61 L517.22,112.71 L518.43,112.90 L519.65,113.17 L520.50,113.40 L520.86,113.54 L522.07,114.45 L522.70,115.00 L523.29,115.53 L524.50,116.80" fill="none" stroke="#111" stroke-width="1.6" stroke-dasharray="5.6 7.4"/>
<path d="M342.50,132.50 L343.71,130.42 L344.92,128.64 L345.30,128.20 L346.13,127.34 L347.35,126.23 L348.56,125.24 L349.77,124.37 L350.98,123.59 L352.19,122.87 L352.50,122.70 L353.40,122.21 L354.61,121.61 L355.82,121.05 L357.04,120.54 L358.25,120.05 L359.46,119.58 L360.67,119.12 L361.88,118.67 L363.09,118.20 L364.30,117.72 L365.30,117.30 L365.52,117.21 L366.73,116.68 L367.94,116.14 L369.15,115.60 L370.36,115.06 L371.57,114.53 L372.78,113.99 L373.99,113.47 L374.40,113.30 L375.21,112.96 L376.42,112.43 L377.63,111.90 L378.84,111.37 L380.05,110.87 L381.26,110.38 L382.47,109.94 L383.50,109.60 L383.69,109.54 L384.90,109.18 L386.11,108.83 L387.32,108.51 L388.53,108.20 L389.74,107.91 L390.95,107.63 L392.16,107.37 L392.50,107.30 L393.38,107.12 L394.59,106.88 L395.80,106.65 L397.01,106.43 L398.22,106.21 L399.43,106.01 L400.64,105.80 L401.86,105.61 L403.07,105.41 L404.28,105.22 L405.49,105.03 L406.70,104.84 L407.91,104.65 L409.12,104.46 L410.33,104.26 L410.70,104.20 L411.55,104.06 L412.76,103.86 L413.97,103.65 L415.18,103.44 L416.39,103.23 L417.60,103.02 L418.81,102.81 L420.03,102.61 L421.24,102.40 L422.45,102.21 L423.66,102.02 L424.87,101.84 L426.08,101.66 L427.29,101.50 L428.50,101.35 L428.90,101.30 L429.72,101.21 L430.93,101.07 L432.14,100.94 L433.35,100.81 L434.56,100.69 L435.77,100.57 L436.98,100.46 L438.20,100.35 L439.41,100.24 L440.62,100.14 L441.83,100.03 L443.04,99.93 L444.25,99.83 L445.46,99.73 L446.67,99.63 L447.89,99.53 L448.20,99.50 L449.10,99.42 L450.31,99.32 L451.52,99.22 L452.73,99.11 L453.94,99.01 L455.15,98.90 L456.37,98.80 L457.58,98.70 L458.79,98.61 L460.00,98.51 L461.21,98.42 L462.42,98.34 L463.63,98.26 L464.84,98.19 L466.06,98.12 L466.40,98.10 L467.27,98.06 L468.48,98.00 L469.69,97.94 L470.90,97.88 L472.11,97.83 L473.32,97.78 L474.54,97.73 L475.75,97.69 L476.96,97.64 L478.17,97.60 L479.38,97.56 L480.59,97.52 L481.80,97.48 L483.01,97.44 L484.23,97.41 L484.50,97.40 L485.44,97.37 L486.65,97.34 L487.86,97.30 L489.07,97.27 L490.28,97.23 L491.49,97.19 L492.71,97.16 L493.92,97.13 L495.13,97.10 L496.34,97.07 L497.55,97.05 L498.76,97.03 L499.97,97.01 L501.18,97.00 L502.40,97.00 L502.70,97.00 L503.61,97.00 L504.82,97.00 L506.03,97.00 L507.24,97.00 L508.45,97.00 L509.66,97.00 L510.88,97.00 L512.09,97.00 L513.30,97.00 L514.51,97.00 L515.00,97.00 L515.72,97.01 L516.93,97.08 L518.14,97.20 L519.35,97.38 L519.50,97.40 L520.57,97.90 L521.78,98.97 L522.00,99.20 L522.99,100.58 L524.20,103.00" fill="none" stroke="#dd1c1c" stroke-width="1.45"/>
<circle cx="342.6" cy="132.5" r="3.4" fill="#ff7d12"/>
<polygon points="524.3,99.5 528.1999999999999,103.4 524.3,107.30000000000001 520.4,103.4" fill="#a04cff"/>
<text x="335.8" y="145.4" font-size="9.6" font-weight="bold" fill="#ff7d12" stroke="#ff7d12">N<tspan font-size="6" dx="1.0" dy="3.2">1</tspan></text>
<text x="521.0" y="93.0" font-size="9.6" font-weight="bold" fill="#a04cff" stroke="#a04cff">A<tspan font-size="6" dx="1.0" dy="3.2">1</tspan></text>
<circle cx="461.9" cy="128.8" r="3.6" fill="#ff7d12"/>
<text x="472.50" y="132.50" font-size="10.7" fill="#ff7d12" text-anchor="start" font-weight="bold" stroke="#ff7d12">Node</text>
<polygon points="461.9,134.5 465.79999999999995,138.4 461.9,142.3 458.0,138.4" fill="#a04cff"/>
<text x="472.50" y="141.90" font-size="10.7" fill="#a04cff" text-anchor="start" font-weight="bold" stroke="#a04cff">Antinode</text>
<clipPath id="clipc"><polygon points="12,203.9 96.3,203.9 96.3,240.3 60.400000000000006,242.4 59.2,244.0 51.3,250.9 12,250.9"/></clipPath>
<polygon points="12,203.9 96.3,203.9 96.3,240.3 60.400000000000006,242.4 59.2,244.0 51.3,250.9 12,250.9" fill="#0b20f6"/>
<g clip-path="url(#clipc)">
<defs><linearGradient id="gcsh" gradientUnits="userSpaceOnUse" x1="0" y1="250.9" x2="0" y2="202.0"><stop offset="0.000" stop-color="#20d8ff" stop-opacity="1"/><stop offset="0.080" stop-color="#40ffa0" stop-opacity="1"/><stop offset="0.141" stop-color="#40ff40" stop-opacity="1"/><stop offset="0.264" stop-color="#40ff50" stop-opacity="1"/><stop offset="0.335" stop-color="#00f0ff" stop-opacity="1"/><stop offset="0.448" stop-color="#20d0ff" stop-opacity="0.95"/><stop offset="0.591" stop-color="#30a0ff" stop-opacity="0.85"/><stop offset="0.928" stop-color="#3078ff" stop-opacity="0.5"/></linearGradient><linearGradient id="gcfan" gradientUnits="userSpaceOnUse" x1="0" y1="244.0" x2="0" y2="202.0"><stop offset="0" stop-color="#20d0ff" stop-opacity="1"/><stop offset="0.3" stop-color="#30a8ff" stop-opacity="0.9"/><stop offset="0.65" stop-color="#3088ff" stop-opacity="0.65"/><stop offset="1" stop-color="#3070ff" stop-opacity="0.3"/></linearGradient></defs>
<path d="M51.80,250.80 C52.23,250.17 53.60,248.17 54.40,247.00 C55.20,245.83 56.00,245.02 56.60,243.80 C57.20,242.58 57.53,241.07 58.00,239.70 C58.47,238.33 58.83,236.97 59.40,235.60 C59.97,234.23 60.60,232.87 61.40,231.50 C62.20,230.13 63.05,228.88 64.20,227.40 C65.35,225.92 66.72,224.20 68.30,222.60 C69.88,221.00 71.65,219.52 73.70,217.80 C75.75,216.08 78.32,214.02 80.60,212.30 C82.88,210.58 85.47,208.75 87.40,207.50 C89.33,206.25 90.60,205.72 92.20,204.80 C93.80,203.88 96.20,202.47 97.00,202.00 L96.3,203.9 L96.3,240.3 L60.7,242.5 L51.3,250.9 Z" fill="url(#gcfan)" opacity="0.1" filter="url(#bl2)"/>
<path d="M51.80,250.80 L53.06,248.96 L54.31,247.13 L54.40,247.00 L55.57,245.46 L56.60,243.80 L56.82,243.30 L58.00,239.70 L58.08,239.47 L59.33,235.77 L59.40,235.60 L60.59,232.99 L61.40,231.50 L61.84,230.76 L63.10,228.88 L64.20,227.40 L64.36,227.20 L65.61,225.61 L66.87,224.14 L68.12,222.78 L68.30,222.60 L69.38,221.55 L70.63,220.40 L71.89,219.32 L73.14,218.27 L73.70,217.80 L74.40,217.21 L75.66,216.18 L76.91,215.16 L78.17,214.17 L79.42,213.19 L80.60,212.30 L80.68,212.24 L81.93,211.30 L83.19,210.38 L84.44,209.48 L85.70,208.61 L86.96,207.78 L87.40,207.50 L88.21,207.01 L89.47,206.30 L90.72,205.62 L91.98,204.93 L92.20,204.80 L93.23,204.21 L94.49,203.48 L95.74,202.74 L97.00,202.00" transform="translate(1.30,0.90)" fill="none" stroke="url(#gcfan)" stroke-width="2.8" opacity="0.7" filter="url(#bl1)"/>
<path d="M51.80,250.80 L53.06,248.96 L54.31,247.13 L54.40,247.00 L55.57,245.46 L56.60,243.80 L56.82,243.30 L58.00,239.70 L58.08,239.47 L59.33,235.77 L59.40,235.60 L60.59,232.99 L61.40,231.50 L61.84,230.76 L63.10,228.88 L64.20,227.40 L64.36,227.20 L65.61,225.61 L66.87,224.14 L68.12,222.78 L68.30,222.60 L69.38,221.55 L70.63,220.40 L71.89,219.32 L73.14,218.27 L73.70,217.80 L74.40,217.21 L75.66,216.18 L76.91,215.16 L78.17,214.17 L79.42,213.19 L80.60,212.30 L80.68,212.24 L81.93,211.30 L83.19,210.38 L84.44,209.48 L85.70,208.61 L86.96,207.78 L87.40,207.50 L88.21,207.01 L89.47,206.30 L90.72,205.62 L91.98,204.93 L92.20,204.80 L93.23,204.21 L94.49,203.48 L95.74,202.74 L97.00,202.00" transform="translate(2.60,1.80)" fill="none" stroke="url(#gcfan)" stroke-width="2.8" opacity="0.8" filter="url(#bl1)"/>
<path d="M51.80,250.80 L53.06,248.96 L54.31,247.13 L54.40,247.00 L55.57,245.46 L56.60,243.80 L56.82,243.30 L58.00,239.70 L58.08,239.47 L59.33,235.77 L59.40,235.60 L60.59,232.99 L61.40,231.50 L61.84,230.76 L63.10,228.88 L64.20,227.40 L64.36,227.20 L65.61,225.61 L66.87,224.14 L68.12,222.78 L68.30,222.60 L69.38,221.55 L70.63,220.40 L71.89,219.32 L73.14,218.27 L73.70,217.80 L74.40,217.21 L75.66,216.18 L76.91,215.16 L78.17,214.17 L79.42,213.19 L80.60,212.30 L80.68,212.24 L81.93,211.30 L83.19,210.38 L84.44,209.48 L85.70,208.61 L86.96,207.78 L87.40,207.50 L88.21,207.01 L89.47,206.30 L90.72,205.62 L91.98,204.93 L92.20,204.80 L93.23,204.21 L94.49,203.48 L95.74,202.74 L97.00,202.00" transform="translate(3.90,2.70)" fill="none" stroke="url(#gcfan)" stroke-width="2.8" opacity="0.75" filter="url(#bl1)"/>
<path d="M51.80,250.80 L53.06,248.96 L54.31,247.13 L54.40,247.00 L55.57,245.46 L56.60,243.80 L56.82,243.30 L58.00,239.70 L58.08,239.47 L59.33,235.77 L59.40,235.60 L60.59,232.99 L61.40,231.50 L61.84,230.76 L63.10,228.88 L64.20,227.40 L64.36,227.20 L65.61,225.61 L66.87,224.14 L68.12,222.78 L68.30,222.60 L69.38,221.55 L70.63,220.40 L71.89,219.32 L73.14,218.27 L73.70,217.80 L74.40,217.21 L75.66,216.18 L76.91,215.16 L78.17,214.17 L79.42,213.19 L80.60,212.30 L80.68,212.24 L81.93,211.30 L83.19,210.38 L84.44,209.48 L85.70,208.61 L86.96,207.78 L87.40,207.50 L88.21,207.01 L89.47,206.30 L90.72,205.62 L91.98,204.93 L92.20,204.80 L93.23,204.21 L94.49,203.48 L95.74,202.74 L97.00,202.00" transform="translate(5.20,3.60)" fill="none" stroke="url(#gcfan)" stroke-width="2.8" opacity="0.6" filter="url(#bl1)"/>
<path d="M51.80,250.80 L53.06,248.96 L54.31,247.13 L54.40,247.00 L55.57,245.46 L56.60,243.80 L56.82,243.30 L58.00,239.70 L58.08,239.47 L59.33,235.77 L59.40,235.60 L60.59,232.99 L61.40,231.50 L61.84,230.76 L63.10,228.88 L64.20,227.40 L64.36,227.20 L65.61,225.61 L66.87,224.14 L68.12,222.78 L68.30,222.60 L69.38,221.55 L70.63,220.40 L71.89,219.32 L73.14,218.27 L73.70,217.80 L74.40,217.21 L75.66,216.18 L76.91,215.16 L78.17,214.17 L79.42,213.19 L80.60,212.30 L80.68,212.24 L81.93,211.30 L83.19,210.38 L84.44,209.48 L85.70,208.61 L86.96,207.78 L87.40,207.50 L88.21,207.01 L89.47,206.30 L90.72,205.62 L91.98,204.93 L92.20,204.80 L93.23,204.21 L94.49,203.48 L95.74,202.74 L97.00,202.00" transform="translate(6.50,4.50)" fill="none" stroke="url(#gcfan)" stroke-width="2.8" opacity="0.42" filter="url(#bl1)"/>
<path d="M51.80,250.80 L53.06,248.96 L54.31,247.13 L54.40,247.00 L55.57,245.46 L56.60,243.80 L56.82,243.30 L58.00,239.70 L58.08,239.47 L59.33,235.77 L59.40,235.60 L60.59,232.99 L61.40,231.50 L61.84,230.76 L63.10,228.88 L64.20,227.40 L64.36,227.20 L65.61,225.61 L66.87,224.14 L68.12,222.78 L68.30,222.60 L69.38,221.55 L70.63,220.40 L71.89,219.32 L73.14,218.27 L73.70,217.80 L74.40,217.21 L75.66,216.18 L76.91,215.16 L78.17,214.17 L79.42,213.19 L80.60,212.30 L80.68,212.24 L81.93,211.30 L83.19,210.38 L84.44,209.48 L85.70,208.61 L86.96,207.78 L87.40,207.50 L88.21,207.01 L89.47,206.30 L90.72,205.62 L91.98,204.93 L92.20,204.80 L93.23,204.21 L94.49,203.48 L95.74,202.74 L97.00,202.00" transform="translate(7.80,5.40)" fill="none" stroke="url(#gcfan)" stroke-width="2.8" opacity="0.25" filter="url(#bl1)"/>
<path d="M51.80,250.80 L53.06,248.96 L54.31,247.13 L54.40,247.00 L55.57,245.46 L56.60,243.80 L56.82,243.30 L58.00,239.70 L58.08,239.47 L59.33,235.77 L59.40,235.60 L60.59,232.99 L61.40,231.50 L61.84,230.76 L63.10,228.88 L64.20,227.40 L64.36,227.20 L65.61,225.61 L66.87,224.14 L68.12,222.78 L68.30,222.60 L69.38,221.55 L70.63,220.40 L71.89,219.32 L73.14,218.27 L73.70,217.80 L74.40,217.21 L75.66,216.18 L76.91,215.16 L78.17,214.17 L79.42,213.19 L80.60,212.30 L80.68,212.24 L81.93,211.30 L83.19,210.38 L84.44,209.48 L85.70,208.61 L86.96,207.78 L87.40,207.50 L88.21,207.01 L89.47,206.30 L90.72,205.62 L91.98,204.93 L92.20,204.80 L93.23,204.21 L94.49,203.48 L95.74,202.74 L97.00,202.00" transform="translate(9.10,6.30)" fill="none" stroke="url(#gcfan)" stroke-width="2.8" opacity="0.12" filter="url(#bl1)"/>
<defs><linearGradient id="gccp" gradientUnits="userSpaceOnUse" x1="0" y1="250.9" x2="0" y2="202.0"><stop offset="0.000" stop-color="#20d8ff" stop-opacity="1"/><stop offset="0.070" stop-color="#50f0a0" stop-opacity="1"/><stop offset="0.121" stop-color="#c0ff20" stop-opacity="1"/><stop offset="0.182" stop-color="#50ff30" stop-opacity="1"/><stop offset="0.264" stop-color="#30ff60" stop-opacity="1"/><stop offset="0.325" stop-color="#00f0ff" stop-opacity="1"/></linearGradient></defs>
<path d="M52.20,250.80 C52.97,249.63 55.80,245.65 56.80,243.80 C57.80,241.95 57.73,241.07 58.20,239.70 C58.67,238.33 59.03,236.63 59.60,235.60 C60.17,234.57 61.27,233.10 61.60,233.50 C61.93,233.90 61.77,236.50 61.60,238.00 C61.43,239.50 60.98,241.45 60.60,242.50 C60.22,243.55 60.43,242.92 59.30,244.30 C58.17,245.68 54.72,249.72 53.80,250.80 Z" fill="url(#gccp)" filter="url(#bl05)"/>
<path d="M51.80,250.80 L53.06,248.96 L54.31,247.13 L54.40,247.00 L55.57,245.46 L56.60,243.80 L56.82,243.30 L58.00,239.70 L58.08,239.47 L59.33,235.77 L59.40,235.60 L60.59,232.99 L61.40,231.50 L61.84,230.76 L63.10,228.88 L64.20,227.40 L64.36,227.20 L65.61,225.61 L66.87,224.14 L68.12,222.78 L68.30,222.60 L69.38,221.55 L70.63,220.40 L71.89,219.32 L73.14,218.27 L73.70,217.80 L74.40,217.21 L75.66,216.18 L76.91,215.16 L78.17,214.17 L79.42,213.19 L80.60,212.30 L80.68,212.24 L81.93,211.30 L83.19,210.38 L84.44,209.48 L85.70,208.61 L86.96,207.78 L87.40,207.50 L88.21,207.01 L89.47,206.30 L90.72,205.62 L91.98,204.93 L92.20,204.80 L93.23,204.21 L94.49,203.48 L95.74,202.74 L97.00,202.00" fill="none" stroke="url(#gcsh)" stroke-width="2.2" filter="url(#bl05)"/>
</g>
<defs><linearGradient id="cstrip" gradientUnits="userSpaceOnUse" x1="59.2" x2="250" y1="0" y2="0"><stop offset="0" stop-color="#f0a000"/><stop offset="0.134" stop-color="#f2a800"/><stop offset="0.24" stop-color="#f5b400"/><stop offset="0.344" stop-color="#f5c400"/><stop offset="0.449" stop-color="#f5d800"/><stop offset="0.58" stop-color="#f8e400"/><stop offset="0.685" stop-color="#f6e000"/><stop offset="0.764" stop-color="#f5cc00"/><stop offset="0.83" stop-color="#f5bc00"/><stop offset="0.895" stop-color="#f5b000"/><stop offset="1" stop-color="#f5a800"/></linearGradient></defs>
<polygon points="59.2,243.8 250,244.1 240.9,251.2 203.4,251.3 189.8,248.6 150,248.2 105,246.7 59.4,245.5 58.900000000000006,244.6" fill="url(#cstrip)"/>
<polygon points="250.3,244.29999999999998 263.9,230.9 270.2,230.9 252.2,244.29999999999998" fill="#0b20f6"/>
<line x1="4" y1="251.7" x2="269.3" y2="251.7" stroke="#111" stroke-width="1.35"/>
<line x1="12.96" y1="251.7" x2="12.96" y2="256.0" stroke="#000" stroke-width="1.2"/>
<text x="12.06" y="264.80" font-size="9.2" fill="#000" text-anchor="middle" font-weight="bold" stroke="#000">-0.2</text>
<line x1="31.93" y1="251.7" x2="31.93" y2="254.1" stroke="#000" stroke-width="0.9"/>
<line x1="50.90" y1="251.7" x2="50.90" y2="256.0" stroke="#000" stroke-width="1.2"/>
<text x="50.40" y="264.80" font-size="9.2" fill="#000" text-anchor="middle" font-weight="bold" stroke="#000">0</text>
<line x1="69.87" y1="251.7" x2="69.87" y2="254.1" stroke="#000" stroke-width="0.9"/>
<line x1="88.84" y1="251.7" x2="88.84" y2="256.0" stroke="#000" stroke-width="1.2"/>
<text x="88.34" y="264.80" font-size="9.2" fill="#000" text-anchor="middle" font-weight="bold" stroke="#000">0.2</text>
<line x1="107.81" y1="251.7" x2="107.81" y2="254.1" stroke="#000" stroke-width="0.9"/>
<line x1="126.78" y1="251.7" x2="126.78" y2="256.0" stroke="#000" stroke-width="1.2"/>
<text x="126.28" y="264.80" font-size="9.2" fill="#000" text-anchor="middle" font-weight="bold" stroke="#000">0.4</text>
<line x1="145.75" y1="251.7" x2="145.75" y2="254.1" stroke="#000" stroke-width="0.9"/>
<line x1="164.72" y1="251.7" x2="164.72" y2="256.0" stroke="#000" stroke-width="1.2"/>
<text x="164.22" y="264.80" font-size="9.2" fill="#000" text-anchor="middle" font-weight="bold" stroke="#000">0.6</text>
<line x1="183.69" y1="251.7" x2="183.69" y2="254.1" stroke="#000" stroke-width="0.9"/>
<line x1="202.66" y1="251.7" x2="202.66" y2="256.0" stroke="#000" stroke-width="1.2"/>
<text x="202.16" y="264.80" font-size="9.2" fill="#000" text-anchor="middle" font-weight="bold" stroke="#000">0.8</text>
<line x1="221.63" y1="251.7" x2="221.63" y2="254.1" stroke="#000" stroke-width="0.9"/>
<line x1="240.60" y1="251.7" x2="240.60" y2="256.0" stroke="#000" stroke-width="1.2"/>
<text x="240.10" y="264.80" font-size="9.2" fill="#000" text-anchor="middle" font-weight="bold" stroke="#000">1</text>
<line x1="259.57" y1="251.7" x2="259.57" y2="254.1" stroke="#000" stroke-width="0.9"/>
<rect x="141.5" y="211.1" width="99.80000000000001" height="10.900000000000006" fill="url(#cb)"/>
<line x1="155.76" y1="211.1" x2="155.76" y2="222.0" stroke="#000" stroke-opacity="0.18" stroke-width="0.6"/>
<line x1="170.01" y1="211.1" x2="170.01" y2="222.0" stroke="#000" stroke-opacity="0.18" stroke-width="0.6"/>
<line x1="184.27" y1="211.1" x2="184.27" y2="222.0" stroke="#000" stroke-opacity="0.18" stroke-width="0.6"/>
<line x1="198.53" y1="211.1" x2="198.53" y2="222.0" stroke="#000" stroke-opacity="0.18" stroke-width="0.6"/>
<line x1="212.79" y1="211.1" x2="212.79" y2="222.0" stroke="#000" stroke-opacity="0.18" stroke-width="0.6"/>
<line x1="227.04" y1="211.1" x2="227.04" y2="222.0" stroke="#000" stroke-opacity="0.18" stroke-width="0.6"/>
<text transform="translate(142.60,232.10)" x="0" y="0" font-size="7.4" font-weight="bold" text-anchor="middle" fill="#000" stroke="#000">1.0</text>
<text transform="translate(156.57,232.10)" x="0" y="0" font-size="7.4" font-weight="bold" text-anchor="middle" fill="#000" stroke="#000">1.9</text>
<text transform="translate(170.54,232.10)" x="0" y="0" font-size="7.4" font-weight="bold" text-anchor="middle" fill="#000" stroke="#000">2.7</text>
<text transform="translate(184.51,232.10)" x="0" y="0" font-size="7.4" font-weight="bold" text-anchor="middle" fill="#000" stroke="#000">3.6</text>
<text transform="translate(198.49,232.10)" x="0" y="0" font-size="7.4" font-weight="bold" text-anchor="middle" fill="#000" stroke="#000">4.4</text>
<text transform="translate(212.46,232.10)" x="0" y="0" font-size="7.4" font-weight="bold" text-anchor="middle" fill="#000" stroke="#000">5.3</text>
<text transform="translate(226.43,232.10)" x="0" y="0" font-size="7.4" font-weight="bold" text-anchor="middle" fill="#000" stroke="#000">6.1</text>
<text transform="translate(240.40,232.10)" x="0" y="0" font-size="7.4" font-weight="bold" text-anchor="middle" fill="#000" stroke="#000">7.0</text>
<text x="115.3" y="231.0" font-size="8.6" font-weight="bold" stroke="#000">P/P</text>
<text x="127.3" y="233.3" font-size="4.0" font-weight="bold" stroke="#000">∞</text>
<text x="130.6" y="231.0" font-size="8.6" font-weight="bold" stroke="#000">:</text>
<text x="109.30" y="273.00" font-size="10.2" fill="#000" text-anchor="start" font-weight="bold" stroke="#000">x/L</text>
<line x1="50.7" y1="275.3" x2="50.7" y2="366.4" stroke="#111" stroke-width="1.35"/>
<line x1="50.7" y1="354.25" x2="53.5" y2="354.25" stroke="#000" stroke-width="0.9"/>
<line x1="50.7" y1="340.30" x2="55.2" y2="340.30" stroke="#000" stroke-width="1.2"/>
<text x="47.20" y="344.20" font-size="9.2" fill="#000" text-anchor="end" font-weight="bold" stroke="#000">4</text>
<line x1="50.7" y1="326.35" x2="53.5" y2="326.35" stroke="#000" stroke-width="0.9"/>
<line x1="50.7" y1="312.40" x2="55.2" y2="312.40" stroke="#000" stroke-width="1.2"/>
<text x="47.20" y="316.30" font-size="9.2" fill="#000" text-anchor="end" font-weight="bold" stroke="#000">6</text>
<line x1="50.7" y1="298.45" x2="53.5" y2="298.45" stroke="#000" stroke-width="0.9"/>
<line x1="50.7" y1="284.50" x2="55.2" y2="284.50" stroke="#000" stroke-width="1.2"/>
<text x="47.20" y="288.40" font-size="9.2" fill="#000" text-anchor="end" font-weight="bold" stroke="#000">8</text>
<line x1="4" y1="366.4" x2="268.8" y2="366.4" stroke="#111" stroke-width="1.35"/>
<line x1="12.96" y1="366.4" x2="12.96" y2="362.09999999999997" stroke="#000" stroke-width="1.2"/>
<text x="12.06" y="376.10" font-size="9.2" fill="#000" text-anchor="middle" font-weight="bold" stroke="#000">-0.2</text>
<line x1="31.93" y1="366.4" x2="31.93" y2="363.9" stroke="#000" stroke-width="0.9"/>
<line x1="50.90" y1="366.4" x2="50.90" y2="362.09999999999997" stroke="#000" stroke-width="1.2"/>
<text x="50.40" y="376.10" font-size="9.2" fill="#000" text-anchor="middle" font-weight="bold" stroke="#000">0</text>
<line x1="69.87" y1="366.4" x2="69.87" y2="363.9" stroke="#000" stroke-width="0.9"/>
<line x1="88.84" y1="366.4" x2="88.84" y2="362.09999999999997" stroke="#000" stroke-width="1.2"/>
<text x="88.34" y="376.10" font-size="9.2" fill="#000" text-anchor="middle" font-weight="bold" stroke="#000">0.2</text>
<line x1="107.81" y1="366.4" x2="107.81" y2="363.9" stroke="#000" stroke-width="0.9"/>
<line x1="126.78" y1="366.4" x2="126.78" y2="362.09999999999997" stroke="#000" stroke-width="1.2"/>
<text x="126.28" y="376.10" font-size="9.2" fill="#000" text-anchor="middle" font-weight="bold" stroke="#000">0.4</text>
<line x1="145.75" y1="366.4" x2="145.75" y2="363.9" stroke="#000" stroke-width="0.9"/>
<line x1="164.72" y1="366.4" x2="164.72" y2="362.09999999999997" stroke="#000" stroke-width="1.2"/>
<text x="164.22" y="376.10" font-size="9.2" fill="#000" text-anchor="middle" font-weight="bold" stroke="#000">0.6</text>
<line x1="183.69" y1="366.4" x2="183.69" y2="363.9" stroke="#000" stroke-width="0.9"/>
<line x1="202.66" y1="366.4" x2="202.66" y2="362.09999999999997" stroke="#000" stroke-width="1.2"/>
<text x="202.16" y="376.10" font-size="9.2" fill="#000" text-anchor="middle" font-weight="bold" stroke="#000">0.8</text>
<line x1="221.63" y1="366.4" x2="221.63" y2="363.9" stroke="#000" stroke-width="0.9"/>
<line x1="240.60" y1="366.4" x2="240.60" y2="362.09999999999997" stroke="#000" stroke-width="1.2"/>
<text x="240.10" y="376.10" font-size="9.2" fill="#000" text-anchor="middle" font-weight="bold" stroke="#000">1</text>
<line x1="259.57" y1="366.4" x2="259.57" y2="363.9" stroke="#000" stroke-width="0.9"/>
<text transform="translate(36.6,311.5) rotate(-90)" font-size="10.4" font-weight="bold" text-anchor="middle" stroke="#000">P/P<tspan font-size="5.6" dy="3.4">∞</tspan></text>
<text x="109.00" y="386.30" font-size="10.2" fill="#000" text-anchor="start" font-weight="bold" stroke="#000">x/L</text>
<text x="138.80" y="396.30" font-size="9" fill="#000" text-anchor="start" font-weight="bold" stroke="#000">(c)</text>
<path d="M65.50,321.50 L66.71,320.62 L67.93,319.80 L69.14,319.06 L70.36,318.44 L70.90,318.20 L71.57,317.93 L72.79,317.48 L74.00,317.07 L75.22,316.71 L76.43,316.39 L77.65,316.11 L78.20,316.00 L78.86,315.87 L80.08,315.65 L81.29,315.43 L82.51,315.23 L83.72,315.04 L84.93,314.85 L86.15,314.68 L87.36,314.51 L88.58,314.36 L89.79,314.22 L91.01,314.08 L92.22,313.96 L93.44,313.84 L94.65,313.74 L95.87,313.64 L96.40,313.60 L97.08,313.55 L98.30,313.47 L99.51,313.39 L100.73,313.31 L101.94,313.24 L103.15,313.17 L104.37,313.10 L105.58,313.04 L106.80,312.98 L108.01,312.92 L109.23,312.87 L110.44,312.82 L111.66,312.78 L112.87,312.74 L114.09,312.71 L114.50,312.70 L115.30,312.68 L116.52,312.65 L117.73,312.62 L118.95,312.59 L120.16,312.56 L121.37,312.54 L122.59,312.51 L123.80,312.49 L125.02,312.47 L126.23,312.45 L127.45,312.43 L128.66,312.42 L129.88,312.41 L131.09,312.40 L132.31,312.40 L132.70,312.40 L133.52,312.40 L134.74,312.40 L135.95,312.40 L137.17,312.40 L138.38,312.40 L139.59,312.40 L140.81,312.40 L142.02,312.40 L143.24,312.40 L144.45,312.40 L145.67,312.40 L146.88,312.40 L148.10,312.40 L149.31,312.40 L150.53,312.40 L151.74,312.40 L152.96,312.40 L154.17,312.40 L155.39,312.40 L156.60,312.40 L157.81,312.40 L159.03,312.40 L160.00,312.40 L160.24,312.40 L161.46,312.40 L162.67,312.39 L163.89,312.39 L165.10,312.38 L166.32,312.37 L167.53,312.36 L168.75,312.35 L169.96,312.33 L171.18,312.32 L172.39,312.30 L173.61,312.28 L174.82,312.26 L176.03,312.24 L177.25,312.22 L178.46,312.20 L179.68,312.18 L180.89,312.15 L182.11,312.13 L183.32,312.11 L184.54,312.08 L185.75,312.06 L186.97,312.03 L188.18,312.01 L189.40,311.99 L190.61,311.96 L191.83,311.94 L193.04,311.92 L194.25,311.89 L195.47,311.87 L196.68,311.85 L197.90,311.83 L199.11,311.81 L200.00,311.80 L200.33,311.80 L201.54,311.78 L202.76,311.76 L203.97,311.74 L205.19,311.72 L206.40,311.70 L207.62,311.68 L208.83,311.65 L210.05,311.63 L211.26,311.61 L212.47,311.59 L213.69,311.57 L214.90,311.55 L216.12,311.52 L217.33,311.50 L218.55,311.48 L219.76,311.46 L220.98,311.44 L222.19,311.42 L223.41,311.41 L224.62,311.39 L225.84,311.37 L227.05,311.36 L228.27,311.35 L229.48,311.33 L230.69,311.32 L231.91,311.32 L233.12,311.31 L234.34,311.30 L235.55,311.30 L236.77,311.30 L236.80,311.30 L237.98,311.30 L239.20,311.31 L240.41,311.33 L241.63,311.36 L242.84,311.39 L243.00,311.40 L244.06,311.54 L245.27,311.91 L246.00,312.20 L246.49,312.48 L247.70,313.60" fill="none" stroke="#111" stroke-width="1.6" stroke-dasharray="5.6 7.4"/>
<path d="M65.10,311.80 L66.31,311.80 L67.52,311.80 L68.73,311.80 L69.94,311.80 L71.16,311.80 L72.37,311.80 L73.58,311.80 L74.79,311.80 L76.00,311.80 L77.21,311.80 L78.20,311.80 L78.42,311.80 L79.63,311.81 L80.85,311.82 L82.06,311.84 L83.27,311.87 L84.48,311.91 L85.69,311.95 L86.90,311.99 L88.11,312.04 L89.32,312.09 L90.53,312.15 L91.75,312.20 L92.96,312.25 L94.17,312.31 L95.38,312.36 L96.40,312.40 L96.59,312.41 L97.80,312.45 L99.01,312.50 L100.22,312.55 L101.44,312.60 L102.65,312.65 L103.86,312.70 L105.07,312.76 L106.28,312.82 L107.49,312.88 L108.70,312.95 L109.91,313.03 L110.90,313.10 L111.12,313.12 L112.34,313.22 L113.55,313.34 L114.76,313.48 L115.97,313.63 L117.18,313.80 L118.39,313.97 L119.60,314.16 L120.81,314.35 L121.80,314.50 L122.03,314.54 L123.24,314.74 L124.45,314.98 L125.66,315.23 L126.87,315.48 L128.08,315.75 L129.29,316.01 L130.50,316.27 L131.72,316.51 L132.70,316.70 L132.93,316.74 L134.14,316.96 L135.35,317.19 L136.56,317.41 L137.77,317.63 L138.98,317.83 L140.19,318.00 L141.40,318.16 L141.80,318.20 L142.62,318.28 L143.83,318.41 L145.04,318.52 L146.25,318.62 L147.46,318.71 L148.67,318.79 L149.88,318.86 L150.90,318.90 L151.09,318.91 L152.31,318.95 L153.52,318.99 L154.73,319.02 L155.94,319.05 L157.15,319.07 L158.36,319.09 L159.57,319.10 L160.00,319.10 L160.78,319.10 L161.99,319.09 L163.21,319.09 L164.42,319.07 L165.63,319.06 L166.84,319.04 L168.05,319.02 L169.26,318.99 L170.47,318.96 L171.68,318.94 L172.90,318.91 L173.20,318.90 L174.11,318.87 L175.32,318.82 L176.53,318.76 L177.74,318.68 L178.95,318.59 L180.16,318.48 L181.37,318.37 L182.58,318.26 L183.80,318.13 L185.01,318.00 L186.22,317.87 L187.43,317.73 L188.64,317.60 L189.85,317.47 L191.06,317.34 L191.40,317.30 L192.27,317.20 L193.49,317.06 L194.70,316.91 L195.91,316.75 L197.12,316.59 L198.33,316.42 L199.54,316.25 L200.75,316.07 L201.96,315.90 L203.17,315.73 L204.39,315.56 L205.60,315.39 L206.81,315.23 L208.02,315.08 L209.23,314.93 L209.50,314.90 L210.44,314.79 L211.65,314.66 L212.86,314.53 L214.08,314.40 L215.29,314.27 L216.50,314.15 L217.71,314.02 L218.92,313.90 L220.13,313.79 L221.34,313.67 L222.55,313.56 L223.77,313.45 L224.98,313.34 L226.19,313.23 L227.40,313.13 L227.70,313.10 L228.61,313.02 L229.82,312.90 L231.03,312.77 L232.24,312.65 L233.45,312.55 L234.67,312.46 L235.88,312.41 L236.80,312.40 L237.09,312.40 L238.30,312.41 L239.51,312.43 L240.72,312.46 L241.93,312.50 L242.00,312.50 L243.14,312.65 L244.36,313.02 L245.50,313.50 L245.57,313.53 L246.78,314.50 L247.99,316.06 L249.20,318.00" fill="none" stroke="#dd1c1c" stroke-width="1.45"/>
<circle cx="65" cy="311.7" r="3.4" fill="#ff7d12"/>
<polygon points="249.3,314.3 253.20000000000002,318.2 249.3,322.09999999999997 245.4,318.2" fill="#a04cff"/>
<text x="58.4" y="303.6" font-size="9.6" font-weight="bold" fill="#ff7d12" stroke="#ff7d12">N<tspan font-size="6" dx="1.0" dy="3.2">1</tspan></text>
<text x="245.4" y="330.5" font-size="9.6" font-weight="bold" fill="#a04cff" stroke="#a04cff">A<tspan font-size="6" dx="1.0" dy="3.2">1</tspan></text>
<circle cx="190.7" cy="285.1" r="3.6" fill="#ff7d12"/>
<text x="202.20" y="288.80" font-size="10.7" fill="#ff7d12" text-anchor="start" font-weight="bold" stroke="#ff7d12">Node</text>
<polygon points="190.7,291.40000000000003 194.6,295.3 190.7,299.2 186.79999999999998,295.3" fill="#a04cff"/>
<text x="202.20" y="298.80" font-size="10.7" fill="#a04cff" text-anchor="start" font-weight="bold" stroke="#a04cff">Antinode</text>
<clipPath id="clipd"><polygon points="288.8,203.9 372.8,203.9 372.8,240.2 337.4,242.4 336.2,244.0 328.2,250.8 288.8,250.8"/></clipPath>
<polygon points="288.8,203.9 372.8,203.9 372.8,240.2 337.4,242.4 336.2,244.0 328.2,250.8 288.8,250.8" fill="#0b20f6"/>
<g clip-path="url(#clipd)">
<defs><linearGradient id="gdsh" gradientUnits="userSpaceOnUse" x1="0" y1="250.8" x2="0" y2="202.0"><stop offset="0.000" stop-color="#20d8ff" stop-opacity="1"/><stop offset="0.078" stop-color="#40ffa0" stop-opacity="1"/><stop offset="0.139" stop-color="#40ff40" stop-opacity="1"/><stop offset="0.262" stop-color="#40ff50" stop-opacity="1"/><stop offset="0.334" stop-color="#00f0ff" stop-opacity="1"/><stop offset="0.447" stop-color="#20d0ff" stop-opacity="0.95"/><stop offset="0.590" stop-color="#30a0ff" stop-opacity="0.85"/><stop offset="0.928" stop-color="#3078ff" stop-opacity="0.5"/></linearGradient><linearGradient id="gdfan" gradientUnits="userSpaceOnUse" x1="0" y1="244.0" x2="0" y2="202.0"><stop offset="0" stop-color="#20d0ff" stop-opacity="1"/><stop offset="0.3" stop-color="#30a8ff" stop-opacity="0.9"/><stop offset="0.65" stop-color="#3088ff" stop-opacity="0.65"/><stop offset="1" stop-color="#3070ff" stop-opacity="0.3"/></linearGradient></defs>
<path d="M328.80,250.80 C329.23,250.17 330.60,248.17 331.40,247.00 C332.20,245.83 333.00,245.02 333.60,243.80 C334.20,242.58 334.53,241.07 335.00,239.70 C335.47,238.33 335.83,236.97 336.40,235.60 C336.97,234.23 337.60,232.87 338.40,231.50 C339.20,230.13 340.05,228.88 341.20,227.40 C342.35,225.92 343.72,224.20 345.30,222.60 C346.88,221.00 348.65,219.52 350.70,217.80 C352.75,216.08 355.32,214.02 357.60,212.30 C359.88,210.58 362.47,208.75 364.40,207.50 C366.33,206.25 367.60,205.72 369.20,204.80 C370.80,203.88 373.20,202.47 374.00,202.00 L372.8,203.9 L372.8,240.2 L337.7,242.5 L328.2,250.8 Z" fill="url(#gdfan)" opacity="0.1" filter="url(#bl2)"/>
<path d="M328.80,250.80 L330.06,248.96 L331.31,247.13 L331.40,247.00 L332.57,245.46 L333.60,243.80 L333.82,243.30 L335.00,239.70 L335.08,239.47 L336.33,235.77 L336.40,235.60 L337.59,232.99 L338.40,231.50 L338.84,230.76 L340.10,228.88 L341.20,227.40 L341.36,227.20 L342.61,225.61 L343.87,224.14 L345.12,222.78 L345.30,222.60 L346.38,221.55 L347.63,220.40 L348.89,219.32 L350.14,218.27 L350.70,217.80 L351.40,217.21 L352.66,216.18 L353.91,215.16 L355.17,214.17 L356.42,213.19 L357.60,212.30 L357.68,212.24 L358.93,211.30 L360.19,210.38 L361.44,209.48 L362.70,208.61 L363.96,207.78 L364.40,207.50 L365.21,207.01 L366.47,206.30 L367.72,205.62 L368.98,204.93 L369.20,204.80 L370.23,204.21 L371.49,203.48 L372.74,202.74 L374.00,202.00" transform="translate(1.30,0.90)" fill="none" stroke="url(#gdfan)" stroke-width="2.8" opacity="0.7" filter="url(#bl1)"/>
<path d="M328.80,250.80 L330.06,248.96 L331.31,247.13 L331.40,247.00 L332.57,245.46 L333.60,243.80 L333.82,243.30 L335.00,239.70 L335.08,239.47 L336.33,235.77 L336.40,235.60 L337.59,232.99 L338.40,231.50 L338.84,230.76 L340.10,228.88 L341.20,227.40 L341.36,227.20 L342.61,225.61 L343.87,224.14 L345.12,222.78 L345.30,222.60 L346.38,221.55 L347.63,220.40 L348.89,219.32 L350.14,218.27 L350.70,217.80 L351.40,217.21 L352.66,216.18 L353.91,215.16 L355.17,214.17 L356.42,213.19 L357.60,212.30 L357.68,212.24 L358.93,211.30 L360.19,210.38 L361.44,209.48 L362.70,208.61 L363.96,207.78 L364.40,207.50 L365.21,207.01 L366.47,206.30 L367.72,205.62 L368.98,204.93 L369.20,204.80 L370.23,204.21 L371.49,203.48 L372.74,202.74 L374.00,202.00" transform="translate(2.60,1.80)" fill="none" stroke="url(#gdfan)" stroke-width="2.8" opacity="0.8" filter="url(#bl1)"/>
<path d="M328.80,250.80 L330.06,248.96 L331.31,247.13 L331.40,247.00 L332.57,245.46 L333.60,243.80 L333.82,243.30 L335.00,239.70 L335.08,239.47 L336.33,235.77 L336.40,235.60 L337.59,232.99 L338.40,231.50 L338.84,230.76 L340.10,228.88 L341.20,227.40 L341.36,227.20 L342.61,225.61 L343.87,224.14 L345.12,222.78 L345.30,222.60 L346.38,221.55 L347.63,220.40 L348.89,219.32 L350.14,218.27 L350.70,217.80 L351.40,217.21 L352.66,216.18 L353.91,215.16 L355.17,214.17 L356.42,213.19 L357.60,212.30 L357.68,212.24 L358.93,211.30 L360.19,210.38 L361.44,209.48 L362.70,208.61 L363.96,207.78 L364.40,207.50 L365.21,207.01 L366.47,206.30 L367.72,205.62 L368.98,204.93 L369.20,204.80 L370.23,204.21 L371.49,203.48 L372.74,202.74 L374.00,202.00" transform="translate(3.90,2.70)" fill="none" stroke="url(#gdfan)" stroke-width="2.8" opacity="0.75" filter="url(#bl1)"/>
<path d="M328.80,250.80 L330.06,248.96 L331.31,247.13 L331.40,247.00 L332.57,245.46 L333.60,243.80 L333.82,243.30 L335.00,239.70 L335.08,239.47 L336.33,235.77 L336.40,235.60 L337.59,232.99 L338.40,231.50 L338.84,230.76 L340.10,228.88 L341.20,227.40 L341.36,227.20 L342.61,225.61 L343.87,224.14 L345.12,222.78 L345.30,222.60 L346.38,221.55 L347.63,220.40 L348.89,219.32 L350.14,218.27 L350.70,217.80 L351.40,217.21 L352.66,216.18 L353.91,215.16 L355.17,214.17 L356.42,213.19 L357.60,212.30 L357.68,212.24 L358.93,211.30 L360.19,210.38 L361.44,209.48 L362.70,208.61 L363.96,207.78 L364.40,207.50 L365.21,207.01 L366.47,206.30 L367.72,205.62 L368.98,204.93 L369.20,204.80 L370.23,204.21 L371.49,203.48 L372.74,202.74 L374.00,202.00" transform="translate(5.20,3.60)" fill="none" stroke="url(#gdfan)" stroke-width="2.8" opacity="0.6" filter="url(#bl1)"/>
<path d="M328.80,250.80 L330.06,248.96 L331.31,247.13 L331.40,247.00 L332.57,245.46 L333.60,243.80 L333.82,243.30 L335.00,239.70 L335.08,239.47 L336.33,235.77 L336.40,235.60 L337.59,232.99 L338.40,231.50 L338.84,230.76 L340.10,228.88 L341.20,227.40 L341.36,227.20 L342.61,225.61 L343.87,224.14 L345.12,222.78 L345.30,222.60 L346.38,221.55 L347.63,220.40 L348.89,219.32 L350.14,218.27 L350.70,217.80 L351.40,217.21 L352.66,216.18 L353.91,215.16 L355.17,214.17 L356.42,213.19 L357.60,212.30 L357.68,212.24 L358.93,211.30 L360.19,210.38 L361.44,209.48 L362.70,208.61 L363.96,207.78 L364.40,207.50 L365.21,207.01 L366.47,206.30 L367.72,205.62 L368.98,204.93 L369.20,204.80 L370.23,204.21 L371.49,203.48 L372.74,202.74 L374.00,202.00" transform="translate(6.50,4.50)" fill="none" stroke="url(#gdfan)" stroke-width="2.8" opacity="0.42" filter="url(#bl1)"/>
<path d="M328.80,250.80 L330.06,248.96 L331.31,247.13 L331.40,247.00 L332.57,245.46 L333.60,243.80 L333.82,243.30 L335.00,239.70 L335.08,239.47 L336.33,235.77 L336.40,235.60 L337.59,232.99 L338.40,231.50 L338.84,230.76 L340.10,228.88 L341.20,227.40 L341.36,227.20 L342.61,225.61 L343.87,224.14 L345.12,222.78 L345.30,222.60 L346.38,221.55 L347.63,220.40 L348.89,219.32 L350.14,218.27 L350.70,217.80 L351.40,217.21 L352.66,216.18 L353.91,215.16 L355.17,214.17 L356.42,213.19 L357.60,212.30 L357.68,212.24 L358.93,211.30 L360.19,210.38 L361.44,209.48 L362.70,208.61 L363.96,207.78 L364.40,207.50 L365.21,207.01 L366.47,206.30 L367.72,205.62 L368.98,204.93 L369.20,204.80 L370.23,204.21 L371.49,203.48 L372.74,202.74 L374.00,202.00" transform="translate(7.80,5.40)" fill="none" stroke="url(#gdfan)" stroke-width="2.8" opacity="0.25" filter="url(#bl1)"/>
<path d="M328.80,250.80 L330.06,248.96 L331.31,247.13 L331.40,247.00 L332.57,245.46 L333.60,243.80 L333.82,243.30 L335.00,239.70 L335.08,239.47 L336.33,235.77 L336.40,235.60 L337.59,232.99 L338.40,231.50 L338.84,230.76 L340.10,228.88 L341.20,227.40 L341.36,227.20 L342.61,225.61 L343.87,224.14 L345.12,222.78 L345.30,222.60 L346.38,221.55 L347.63,220.40 L348.89,219.32 L350.14,218.27 L350.70,217.80 L351.40,217.21 L352.66,216.18 L353.91,215.16 L355.17,214.17 L356.42,213.19 L357.60,212.30 L357.68,212.24 L358.93,211.30 L360.19,210.38 L361.44,209.48 L362.70,208.61 L363.96,207.78 L364.40,207.50 L365.21,207.01 L366.47,206.30 L367.72,205.62 L368.98,204.93 L369.20,204.80 L370.23,204.21 L371.49,203.48 L372.74,202.74 L374.00,202.00" transform="translate(9.10,6.30)" fill="none" stroke="url(#gdfan)" stroke-width="2.8" opacity="0.12" filter="url(#bl1)"/>
<defs><linearGradient id="gdcp" gradientUnits="userSpaceOnUse" x1="0" y1="250.8" x2="0" y2="202.0"><stop offset="0.000" stop-color="#20d8ff" stop-opacity="1"/><stop offset="0.068" stop-color="#50f0a0" stop-opacity="1"/><stop offset="0.119" stop-color="#c0ff20" stop-opacity="1"/><stop offset="0.180" stop-color="#50ff30" stop-opacity="1"/><stop offset="0.262" stop-color="#30ff60" stop-opacity="1"/><stop offset="0.324" stop-color="#00f0ff" stop-opacity="1"/></linearGradient></defs>
<path d="M329.20,250.80 C329.97,249.63 332.80,245.65 333.80,243.80 C334.80,241.95 334.73,241.07 335.20,239.70 C335.67,238.33 336.03,236.63 336.60,235.60 C337.17,234.57 338.27,233.10 338.60,233.50 C338.93,233.90 338.77,236.50 338.60,238.00 C338.43,239.50 337.98,241.45 337.60,242.50 C337.22,243.55 337.43,242.92 336.30,244.30 C335.17,245.68 331.72,249.72 330.80,250.80 Z" fill="url(#gdcp)" filter="url(#bl05)"/>
<path d="M328.80,250.80 L330.06,248.96 L331.31,247.13 L331.40,247.00 L332.57,245.46 L333.60,243.80 L333.82,243.30 L335.00,239.70 L335.08,239.47 L336.33,235.77 L336.40,235.60 L337.59,232.99 L338.40,231.50 L338.84,230.76 L340.10,228.88 L341.20,227.40 L341.36,227.20 L342.61,225.61 L343.87,224.14 L345.12,222.78 L345.30,222.60 L346.38,221.55 L347.63,220.40 L348.89,219.32 L350.14,218.27 L350.70,217.80 L351.40,217.21 L352.66,216.18 L353.91,215.16 L355.17,214.17 L356.42,213.19 L357.60,212.30 L357.68,212.24 L358.93,211.30 L360.19,210.38 L361.44,209.48 L362.70,208.61 L363.96,207.78 L364.40,207.50 L365.21,207.01 L366.47,206.30 L367.72,205.62 L368.98,204.93 L369.20,204.80 L370.23,204.21 L371.49,203.48 L372.74,202.74 L374.00,202.00" fill="none" stroke="url(#gdsh)" stroke-width="2.2" filter="url(#bl05)"/>
</g>
<defs><linearGradient id="dstrip" gradientUnits="userSpaceOnUse" x1="336.2" x2="526" y1="0" y2="0"><stop offset="0" stop-color="#f0b800"/><stop offset="0.05" stop-color="#f0c400"/><stop offset="0.18" stop-color="#f0d000"/><stop offset="0.33" stop-color="#ece000"/><stop offset="0.5" stop-color="#d0e800"/><stop offset="0.6" stop-color="#a8e800"/><stop offset="0.7" stop-color="#80e200"/><stop offset="0.8" stop-color="#70e000"/><stop offset="1" stop-color="#6ee000"/></linearGradient></defs>
<polygon points="336.2,243.8 526,244 517,251.0 486,251.2 470,248.2 427,248 382,246.7 336.4,245.5 335.9,244.6" fill="url(#dstrip)"/>
<polygon points="526.3,244.2 538.9,230.8 546.5,230.8 528.2,244.2" fill="#0b20f6"/>
<line x1="280.7" y1="251.5" x2="545.5" y2="251.5" stroke="#111" stroke-width="1.35"/>
<line x1="289.64" y1="251.5" x2="289.64" y2="255.8" stroke="#000" stroke-width="1.2"/>
<text x="288.74" y="264.80" font-size="9.2" fill="#000" text-anchor="middle" font-weight="bold" stroke="#000">-0.2</text>
<line x1="308.62" y1="251.5" x2="308.62" y2="253.9" stroke="#000" stroke-width="0.9"/>
<line x1="327.60" y1="251.5" x2="327.60" y2="255.8" stroke="#000" stroke-width="1.2"/>
<text x="327.10" y="264.80" font-size="9.2" fill="#000" text-anchor="middle" font-weight="bold" stroke="#000">0</text>
<line x1="346.58" y1="251.5" x2="346.58" y2="253.9" stroke="#000" stroke-width="0.9"/>
<line x1="365.56" y1="251.5" x2="365.56" y2="255.8" stroke="#000" stroke-width="1.2"/>
<text x="365.06" y="264.80" font-size="9.2" fill="#000" text-anchor="middle" font-weight="bold" stroke="#000">0.2</text>
<line x1="384.54" y1="251.5" x2="384.54" y2="253.9" stroke="#000" stroke-width="0.9"/>
<line x1="403.52" y1="251.5" x2="403.52" y2="255.8" stroke="#000" stroke-width="1.2"/>
<text x="403.02" y="264.80" font-size="9.2" fill="#000" text-anchor="middle" font-weight="bold" stroke="#000">0.4</text>
<line x1="422.50" y1="251.5" x2="422.50" y2="253.9" stroke="#000" stroke-width="0.9"/>
<line x1="441.48" y1="251.5" x2="441.48" y2="255.8" stroke="#000" stroke-width="1.2"/>
<text x="440.98" y="264.80" font-size="9.2" fill="#000" text-anchor="middle" font-weight="bold" stroke="#000">0.6</text>
<line x1="460.46" y1="251.5" x2="460.46" y2="253.9" stroke="#000" stroke-width="0.9"/>
<line x1="479.44" y1="251.5" x2="479.44" y2="255.8" stroke="#000" stroke-width="1.2"/>
<text x="478.94" y="264.80" font-size="9.2" fill="#000" text-anchor="middle" font-weight="bold" stroke="#000">0.8</text>
<line x1="498.42" y1="251.5" x2="498.42" y2="253.9" stroke="#000" stroke-width="0.9"/>
<line x1="517.40" y1="251.5" x2="517.40" y2="255.8" stroke="#000" stroke-width="1.2"/>
<text x="516.90" y="264.80" font-size="9.2" fill="#000" text-anchor="middle" font-weight="bold" stroke="#000">1</text>
<line x1="536.38" y1="251.5" x2="536.38" y2="253.9" stroke="#000" stroke-width="0.9"/>
<rect x="418" y="210.3" width="99.5" height="10.799999999999983" fill="url(#cb)"/>
<line x1="432.21" y1="210.3" x2="432.21" y2="221.1" stroke="#000" stroke-opacity="0.18" stroke-width="0.6"/>
<line x1="446.43" y1="210.3" x2="446.43" y2="221.1" stroke="#000" stroke-opacity="0.18" stroke-width="0.6"/>
<line x1="460.64" y1="210.3" x2="460.64" y2="221.1" stroke="#000" stroke-opacity="0.18" stroke-width="0.6"/>
<line x1="474.86" y1="210.3" x2="474.86" y2="221.1" stroke="#000" stroke-opacity="0.18" stroke-width="0.6"/>
<line x1="489.07" y1="210.3" x2="489.07" y2="221.1" stroke="#000" stroke-opacity="0.18" stroke-width="0.6"/>
<line x1="503.29" y1="210.3" x2="503.29" y2="221.1" stroke="#000" stroke-opacity="0.18" stroke-width="0.6"/>
<text transform="translate(419.10,231.30)" x="0" y="0" font-size="7.4" font-weight="bold" text-anchor="middle" fill="#000" stroke="#000">1.0</text>
<text transform="translate(433.03,231.30)" x="0" y="0" font-size="7.4" font-weight="bold" text-anchor="middle" fill="#000" stroke="#000">1.9</text>
<text transform="translate(446.96,231.30)" x="0" y="0" font-size="7.4" font-weight="bold" text-anchor="middle" fill="#000" stroke="#000">2.7</text>
<text transform="translate(460.89,231.30)" x="0" y="0" font-size="7.4" font-weight="bold" text-anchor="middle" fill="#000" stroke="#000">3.6</text>
<text transform="translate(474.81,231.30)" x="0" y="0" font-size="7.4" font-weight="bold" text-anchor="middle" fill="#000" stroke="#000">4.4</text>
<text transform="translate(488.74,231.30)" x="0" y="0" font-size="7.4" font-weight="bold" text-anchor="middle" fill="#000" stroke="#000">5.3</text>
<text transform="translate(502.67,231.30)" x="0" y="0" font-size="7.4" font-weight="bold" text-anchor="middle" fill="#000" stroke="#000">6.1</text>
<text transform="translate(516.60,231.30)" x="0" y="0" font-size="7.4" font-weight="bold" text-anchor="middle" fill="#000" stroke="#000">7.0</text>
<text x="390.9" y="230.3" font-size="8.6" font-weight="bold" stroke="#000">P/P</text>
<text x="402.9" y="232.60000000000002" font-size="4.0" font-weight="bold" stroke="#000">∞</text>
<text x="406.2" y="230.3" font-size="8.6" font-weight="bold" stroke="#000">:</text>
<text x="386.20" y="272.70" font-size="10.2" fill="#000" text-anchor="start" font-weight="bold" stroke="#000">x/L</text>
<line x1="327.5" y1="274.5" x2="327.5" y2="366.4" stroke="#111" stroke-width="1.35"/>
<line x1="327.5" y1="353.15" x2="330.3" y2="353.15" stroke="#000" stroke-width="0.9"/>
<line x1="327.5" y1="339.20" x2="332.0" y2="339.20" stroke="#000" stroke-width="1.2"/>
<text x="324.00" y="343.10" font-size="9.2" fill="#000" text-anchor="end" font-weight="bold" stroke="#000">4</text>
<line x1="327.5" y1="325.25" x2="330.3" y2="325.25" stroke="#000" stroke-width="0.9"/>
<line x1="327.5" y1="311.30" x2="332.0" y2="311.30" stroke="#000" stroke-width="1.2"/>
<text x="324.00" y="315.20" font-size="9.2" fill="#000" text-anchor="end" font-weight="bold" stroke="#000">6</text>
<line x1="327.5" y1="297.35" x2="330.3" y2="297.35" stroke="#000" stroke-width="0.9"/>
<line x1="327.5" y1="283.40" x2="332.0" y2="283.40" stroke="#000" stroke-width="1.2"/>
<text x="324.00" y="287.30" font-size="9.2" fill="#000" text-anchor="end" font-weight="bold" stroke="#000">8</text>
<line x1="280.7" y1="366.4" x2="545.5" y2="366.4" stroke="#111" stroke-width="1.35"/>
<line x1="289.64" y1="366.4" x2="289.64" y2="362.09999999999997" stroke="#000" stroke-width="1.2"/>
<text x="288.74" y="376.10" font-size="9.2" fill="#000" text-anchor="middle" font-weight="bold" stroke="#000">-0.2</text>
<line x1="308.62" y1="366.4" x2="308.62" y2="363.9" stroke="#000" stroke-width="0.9"/>
<line x1="327.60" y1="366.4" x2="327.60" y2="362.09999999999997" stroke="#000" stroke-width="1.2"/>
<text x="327.10" y="376.10" font-size="9.2" fill="#000" text-anchor="middle" font-weight="bold" stroke="#000">0</text>
<line x1="346.58" y1="366.4" x2="346.58" y2="363.9" stroke="#000" stroke-width="0.9"/>
<line x1="365.56" y1="366.4" x2="365.56" y2="362.09999999999997" stroke="#000" stroke-width="1.2"/>
<text x="365.06" y="376.10" font-size="9.2" fill="#000" text-anchor="middle" font-weight="bold" stroke="#000">0.2</text>
<line x1="384.54" y1="366.4" x2="384.54" y2="363.9" stroke="#000" stroke-width="0.9"/>
<line x1="403.52" y1="366.4" x2="403.52" y2="362.09999999999997" stroke="#000" stroke-width="1.2"/>
<text x="403.02" y="376.10" font-size="9.2" fill="#000" text-anchor="middle" font-weight="bold" stroke="#000">0.4</text>
<line x1="422.50" y1="366.4" x2="422.50" y2="363.9" stroke="#000" stroke-width="0.9"/>
<line x1="441.48" y1="366.4" x2="441.48" y2="362.09999999999997" stroke="#000" stroke-width="1.2"/>
<text x="440.98" y="376.10" font-size="9.2" fill="#000" text-anchor="middle" font-weight="bold" stroke="#000">0.6</text>
<line x1="460.46" y1="366.4" x2="460.46" y2="363.9" stroke="#000" stroke-width="0.9"/>
<line x1="479.44" y1="366.4" x2="479.44" y2="362.09999999999997" stroke="#000" stroke-width="1.2"/>
<text x="478.94" y="376.10" font-size="9.2" fill="#000" text-anchor="middle" font-weight="bold" stroke="#000">0.8</text>
<line x1="498.42" y1="366.4" x2="498.42" y2="363.9" stroke="#000" stroke-width="0.9"/>
<line x1="517.40" y1="366.4" x2="517.40" y2="362.09999999999997" stroke="#000" stroke-width="1.2"/>
<text x="516.90" y="376.10" font-size="9.2" fill="#000" text-anchor="middle" font-weight="bold" stroke="#000">1</text>
<line x1="536.38" y1="366.4" x2="536.38" y2="363.9" stroke="#000" stroke-width="0.9"/>
<text transform="translate(313.2,310.8) rotate(-90)" font-size="10.4" font-weight="bold" text-anchor="middle" stroke="#000">P/P<tspan font-size="5.6" dy="3.4">∞</tspan></text>
<text x="385.80" y="386.90" font-size="10.2" fill="#000" text-anchor="start" font-weight="bold" stroke="#000">x/L</text>
<text x="417.00" y="396.30" font-size="9" fill="#000" text-anchor="start" font-weight="bold" stroke="#000">(d)</text>
<path d="M341.50,321.50 L342.71,320.66 L343.92,319.86 L345.13,319.13 L346.33,318.47 L346.90,318.20 L347.54,317.90 L348.75,317.36 L349.96,316.85 L351.17,316.38 L352.38,315.98 L353.58,315.64 L354.20,315.50 L354.79,315.38 L356.00,315.14 L357.21,314.91 L358.42,314.70 L359.63,314.50 L360.84,314.31 L362.04,314.13 L363.25,313.97 L364.46,313.82 L365.67,313.67 L366.88,313.55 L368.09,313.43 L369.30,313.32 L370.50,313.23 L371.71,313.14 L372.40,313.10 L372.92,313.07 L374.13,313.00 L375.34,312.94 L376.55,312.87 L377.75,312.82 L378.96,312.76 L380.17,312.71 L381.38,312.67 L382.59,312.62 L383.80,312.58 L385.01,312.54 L386.21,312.51 L387.42,312.47 L388.63,312.44 L389.84,312.41 L390.50,312.40 L391.05,312.39 L392.26,312.36 L393.47,312.34 L394.67,312.32 L395.88,312.29 L397.09,312.27 L398.30,312.25 L399.51,312.23 L400.72,312.21 L401.92,312.19 L403.13,312.18 L404.34,312.16 L405.55,312.14 L406.76,312.12 L407.97,312.11 L409.18,312.09 L410.38,312.08 L411.59,312.06 L412.80,312.05 L414.01,312.03 L415.22,312.02 L416.43,312.01 L417.64,311.99 L418.84,311.98 L420.05,311.97 L421.26,311.96 L422.47,311.94 L423.68,311.93 L424.89,311.92 L426.09,311.91 L427.30,311.89 L428.51,311.88 L429.72,311.87 L430.93,311.85 L432.14,311.84 L433.35,311.83 L434.55,311.82 L435.76,311.80 L436.00,311.80 L436.97,311.79 L438.18,311.78 L439.39,311.76 L440.60,311.75 L441.81,311.74 L443.01,311.73 L444.22,311.72 L445.43,311.71 L446.64,311.70 L447.85,311.69 L449.06,311.68 L450.26,311.67 L451.47,311.66 L452.68,311.65 L453.89,311.63 L455.10,311.62 L456.31,311.61 L457.52,311.60 L458.72,311.59 L459.93,311.58 L461.14,311.56 L462.35,311.55 L463.56,311.54 L464.77,311.52 L465.98,311.51 L466.40,311.50 L467.18,311.49 L468.39,311.47 L469.60,311.45 L470.81,311.43 L472.02,311.40 L473.23,311.37 L474.43,311.34 L475.64,311.31 L476.85,311.28 L478.06,311.25 L479.27,311.22 L480.48,311.18 L481.69,311.15 L482.89,311.11 L484.10,311.07 L485.31,311.04 L486.52,311.00 L487.73,310.97 L488.94,310.93 L490.15,310.89 L491.35,310.86 L492.56,310.82 L493.77,310.79 L494.98,310.76 L496.19,310.73 L497.40,310.70 L498.60,310.67 L499.81,310.64 L501.02,310.62 L502.23,310.59 L503.44,310.57 L504.65,310.55 L505.86,310.54 L507.06,310.52 L508.27,310.51 L509.48,310.51 L510.69,310.50 L511.80,310.50 L511.90,310.50 L513.11,310.50 L514.32,310.50 L515.52,310.50 L516.73,310.50 L517.94,310.50 L519.15,310.50 L520.36,310.50 L520.90,310.50 L521.57,310.56 L522.77,310.95 L523.50,311.30 L523.98,311.76 L524.50,312.40 L525.19,313.16 L526.40,314.50" fill="none" stroke="#111" stroke-width="1.6" stroke-dasharray="5.6 7.4"/>
<path d="M341.50,312.70 L342.71,312.79 L343.93,312.87 L345.14,312.96 L346.36,313.04 L347.57,313.13 L348.78,313.22 L350.00,313.30 L351.21,313.39 L352.42,313.47 L353.64,313.56 L354.20,313.60 L354.85,313.65 L356.07,313.73 L357.28,313.82 L358.49,313.90 L359.71,313.99 L360.92,314.07 L362.13,314.16 L363.35,314.24 L364.56,314.33 L365.78,314.41 L366.99,314.50 L368.20,314.59 L369.42,314.68 L370.63,314.77 L371.85,314.86 L372.40,314.90 L373.06,314.95 L374.27,315.04 L375.49,315.14 L376.70,315.24 L377.91,315.33 L379.13,315.43 L380.34,315.53 L381.56,315.63 L382.77,315.73 L383.98,315.83 L385.20,315.93 L386.41,316.04 L387.62,316.14 L388.84,316.25 L390.05,316.36 L390.50,316.40 L391.27,316.47 L392.48,316.58 L393.69,316.69 L394.91,316.80 L396.12,316.91 L397.34,317.02 L398.55,317.13 L399.76,317.25 L400.98,317.37 L402.19,317.49 L403.40,317.61 L404.62,317.74 L405.83,317.87 L407.05,318.01 L408.26,318.15 L408.70,318.20 L409.47,318.29 L410.69,318.45 L411.90,318.60 L413.12,318.77 L414.33,318.94 L415.54,319.11 L416.76,319.29 L417.97,319.48 L419.18,319.66 L420.40,319.85 L421.61,320.05 L422.83,320.24 L424.04,320.44 L425.25,320.63 L426.47,320.83 L426.90,320.90 L427.68,321.03 L428.89,321.24 L430.11,321.45 L431.32,321.67 L432.54,321.89 L433.75,322.11 L434.96,322.32 L436.00,322.50 L436.18,322.53 L437.39,322.73 L438.61,322.93 L439.82,323.12 L441.03,323.32 L442.25,323.51 L443.46,323.70 L444.67,323.90 L445.89,324.10 L447.10,324.31 L448.20,324.50 L448.32,324.52 L449.53,324.75 L450.74,324.98 L451.96,325.22 L453.17,325.47 L454.38,325.72 L455.60,325.98 L456.81,326.23 L458.03,326.49 L459.24,326.75 L460.45,327.01 L461.67,327.26 L462.88,327.51 L464.10,327.76 L465.31,327.99 L466.40,328.20 L466.52,328.22 L467.74,328.45 L468.95,328.68 L470.16,328.92 L471.38,329.16 L472.59,329.39 L473.81,329.62 L475.02,329.85 L476.23,330.07 L477.45,330.29 L478.66,330.49 L479.88,330.69 L481.09,330.87 L482.30,331.04 L483.52,331.19 L484.50,331.30 L484.73,331.32 L485.94,331.45 L487.16,331.57 L488.37,331.69 L489.59,331.81 L490.80,331.92 L492.01,332.02 L493.23,332.12 L494.44,332.22 L495.65,332.31 L496.87,332.39 L498.08,332.47 L499.30,332.54 L500.51,332.60 L501.72,332.66 L502.70,332.70 L502.94,332.71 L504.15,332.75 L505.37,332.78 L506.58,332.81 L507.79,332.84 L509.01,332.86 L510.22,332.88 L511.43,332.90 L512.65,332.93 L513.86,332.95 L515.08,332.99 L516.29,333.03 L517.50,333.08 L518.00,333.10 L518.72,333.14 L519.93,333.23 L521.14,333.37 L522.36,333.57 L522.50,333.60 L523.57,334.05 L524.79,335.01 L526.00,336.20" fill="none" stroke="#dd1c1c" stroke-width="1.45"/>
<circle cx="341.6" cy="312.7" r="3.4" fill="#ff7d12"/>
<polygon points="526.2,332.3 530.1,336.2 526.2,340.09999999999997 522.3000000000001,336.2" fill="#a04cff"/>
<text x="335" y="304.3" font-size="9.6" font-weight="bold" fill="#ff7d12" stroke="#ff7d12">N<tspan font-size="6" dx="1.0" dy="3.2">1</tspan></text>
<text x="522.4" y="349" font-size="9.6" font-weight="bold" fill="#a04cff" stroke="#a04cff">A<tspan font-size="6" dx="1.0" dy="3.2">1</tspan></text>
<circle cx="462.8" cy="282.5" r="3.6" fill="#ff7d12"/>
<text x="474.30" y="286.20" font-size="10.7" fill="#ff7d12" text-anchor="start" font-weight="bold" stroke="#ff7d12">Node</text>
<polygon points="462.8,288.5 466.7,292.4 462.8,296.29999999999995 458.90000000000003,292.4" fill="#a04cff"/>
<text x="474.30" y="295.90" font-size="10.7" fill="#a04cff" text-anchor="start" font-weight="bold" stroke="#a04cff">Antinode</text>
</svg></body></html>
